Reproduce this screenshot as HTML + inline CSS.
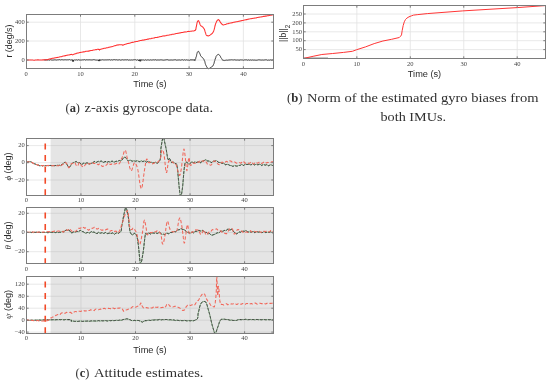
<!DOCTYPE html>
<html><head><meta charset="utf-8"><style>html,body{margin:0;padding:0;background:#fff;width:550px;height:384px;overflow:hidden}svg{display:block}</style></head>
<body><svg width="550" height="384" viewBox="0 0 550 384">
<rect width="550" height="384" fill="#fff"/>
<line x1="80.5" y1="14.5" x2="80.5" y2="68.5" stroke="#e2e2e2" stroke-width="0.8"/>
<line x1="134.79999999999998" y1="14.5" x2="134.79999999999998" y2="68.5" stroke="#e2e2e2" stroke-width="0.8"/>
<line x1="189.09999999999997" y1="14.5" x2="189.09999999999997" y2="68.5" stroke="#e2e2e2" stroke-width="0.8"/>
<line x1="243.39999999999998" y1="14.5" x2="243.39999999999998" y2="68.5" stroke="#e2e2e2" stroke-width="0.8"/>
<line x1="26.5" y1="60.0" x2="273.5" y2="60.0" stroke="#e2e2e2" stroke-width="0.8"/>
<line x1="26.5" y1="41.0" x2="273.5" y2="41.0" stroke="#e2e2e2" stroke-width="0.8"/>
<line x1="26.5" y1="22.2" x2="273.5" y2="22.2" stroke="#e2e2e2" stroke-width="0.8"/>
<polyline points="44.16,60.00 44.60,60.00 45.00,60.00 46.24,59.88 46.81,59.74 47.00,60.13 47.10,59.97 47.37,60.00 48.11,59.75 49.60,60.15 49.98,60.08 50.40,59.71 50.85,59.81 51.34,60.00 51.86,59.99 52.41,60.10 52.99,59.84 53.59,60.03 54.22,59.95 54.87,59.76 55.53,59.89 56.21,60.04 56.91,60.01 57.61,59.84 58.33,59.87 59.06,59.59 59.78,59.69 60.52,59.96 61.25,59.76 61.98,59.64 62.71,59.82 63.43,59.90 64.15,59.88 64.85,59.73 65.54,59.76 66.22,59.80 66.88,59.93 67.52,59.81 68.14,59.75 68.74,59.80 69.31,59.58 69.85,59.59 70.36,59.93 70.85,60.08 71.29,59.90 71.70,59.81 72.07,59.72 72.40,59.90 74.06,60.92 73.00,61.44 71.94,60.76 74.00,60.18 74.34,59.85 74.71,59.98 75.13,60.18 75.58,59.98 76.07,59.91 76.59,59.81 77.13,59.94 77.71,60.13 78.31,59.65 78.94,60.03 79.59,60.04 80.26,60.07 80.94,59.99 81.64,60.02 82.36,59.88 83.09,59.90 83.83,59.83 84.57,59.64 85.32,60.05 86.08,59.90 86.84,59.71 87.59,59.87 88.35,59.86 89.10,59.80 89.85,59.80 90.58,59.90 91.31,59.94 92.02,59.94 92.72,59.87 93.41,59.66 94.07,59.77 94.71,59.75 95.34,59.96 95.94,60.11 96.51,60.08 97.05,60.09 97.56,60.11 98.04,59.84 98.49,60.14 98.90,60.07 99.27,59.78 99.60,59.76 100.00,60.66 98.06,60.63 101.00,59.87 101.32,59.80 101.68,60.05 102.05,59.90 102.45,59.76 102.88,59.80 103.33,59.98 103.80,59.79 104.29,59.84 104.80,60.05 105.34,59.92 105.89,59.85 106.46,59.92 107.04,59.69 107.65,59.87 108.27,59.88 108.90,59.76 109.55,59.71 110.21,60.11 110.88,59.91 111.56,59.76 112.26,59.95 112.96,60.05 113.67,59.65 114.40,59.65 115.12,59.71 115.86,60.00 116.60,59.72 117.34,59.99 118.09,59.97 118.84,59.90 119.59,59.74 120.35,60.12 121.10,60.03 121.86,59.89 122.61,59.74 123.36,59.96 124.11,59.83 124.85,59.92 125.59,59.80 126.32,59.95 127.05,59.67 127.77,59.79 128.48,60.13 129.19,60.08 129.88,59.80 130.56,60.08 131.23,59.81 131.89,60.13 132.54,60.03 133.17,59.87 133.79,59.79 134.39,59.68 134.97,60.12 135.54,59.70 136.09,60.10 136.62,60.17 137.13,59.98 137.62,59.79 138.09,60.14 138.54,60.20 138.96,60.07 139.36,59.98 139.73,59.92 140.08,59.92 140.40,59.85 141.00,61.09 138.54,60.53 142.00,59.85 142.32,59.80 142.65,60.07 143.01,59.88 143.39,59.98 143.79,59.89 144.20,60.15 144.64,60.16 145.09,59.72 145.56,59.81 146.05,59.87 146.55,60.19 147.07,60.09 147.60,59.86 148.15,59.80 148.71,60.03 149.28,60.10 149.87,60.15 150.47,59.85 151.09,60.12 151.71,60.02 152.34,59.92 152.99,60.17 153.65,59.79 154.31,60.04 154.98,59.72 155.66,59.76 156.35,60.13 157.05,59.78 157.75,60.06 158.46,59.98 159.17,60.10 159.89,59.86 160.62,59.85 161.35,59.83 162.08,60.11 162.81,59.98 163.55,60.16 164.29,60.13 165.03,59.75 165.77,59.96 166.51,59.74 167.25,59.71 167.99,59.73 168.73,60.13 169.47,60.09 170.20,60.11 170.93,59.87 171.66,60.01 172.39,60.09 173.11,59.90 173.82,59.99 174.53,59.82 175.23,59.75 175.93,59.85 176.62,60.16 177.30,60.00 177.98,60.18 178.64,59.95 179.30,59.86 179.94,60.12 180.58,60.14 181.20,59.74 181.82,60.07 182.42,59.78 183.01,59.79 183.58,60.18 184.15,59.76 184.70,59.86 185.23,60.24 185.75,59.95 186.25,59.80 186.74,59.83 187.21,59.87 187.67,60.12 188.10,59.80 188.52,60.20 188.92,59.94 189.30,60.23 189.66,60.20 190.00,59.90 192.97,59.91 194.59,60.08 195.21,59.97 195.18,60.31 194.85,60.01 194.58,59.93 194.70,60.24 195.14,59.55 195.45,59.23 195.68,58.59 195.85,57.90 196.01,57.13 196.20,56.91 196.38,56.35 196.54,55.69 196.70,54.56 196.85,53.93 197.00,53.48 197.15,53.10 197.30,52.42 197.85,51.56 198.40,51.38 198.76,51.52 199.11,52.33 199.50,53.00 199.75,53.50 200.02,54.02 200.30,54.76 200.59,55.71 200.90,55.97 201.32,56.58 201.77,56.97 202.24,57.52 202.70,57.75 203.07,58.20 203.45,58.74 203.83,59.32 204.18,60.21 204.50,60.90 204.72,61.22 204.90,61.91 205.07,62.72 205.23,63.45 205.40,64.13 205.60,64.57 205.88,65.14 206.18,65.90 206.49,66.42 206.80,67.18 207.10,67.39 207.73,68.15 208.50,68.67 209.08,68.35 209.75,68.30 210.45,67.74 211.10,67.48 211.58,66.78 212.05,66.59 212.50,66.33 212.92,65.48 213.30,65.32 213.54,64.42 213.76,64.14 213.95,63.61 214.13,62.85 214.32,61.92 214.50,61.15 214.70,60.71 214.91,60.27 215.11,59.30 215.32,58.94 215.53,57.91 215.75,57.68 215.97,56.67 216.20,56.31 216.63,55.82 217.08,55.10 217.54,54.65 218.00,54.37 218.59,54.44 219.17,54.92 219.80,55.44 220.09,56.00 220.40,56.39 220.71,57.27 221.04,57.86 221.36,58.24 221.68,58.67 222.00,59.53 222.47,59.95 222.87,60.13 223.40,60.31 224.20,60.58 224.66,60.40 225.17,60.35 225.71,60.28 226.30,60.18 226.94,59.99 227.62,60.23 228.36,60.05 229.15,60.07 230.00,59.78 230.47,59.92 230.89,59.80 231.28,59.79 231.66,59.85 232.03,60.13 232.41,59.92 232.82,59.92 233.27,60.03 233.78,59.85 234.35,59.74 235.01,60.00 235.76,59.99 236.62,60.07 237.60,59.97 238.72,60.09 240.00,60.12 240.41,59.87 240.84,60.00 241.30,59.99 241.78,59.86 242.28,59.96 242.81,60.03 243.35,60.20 243.92,60.21 244.50,59.89 245.10,60.07 245.72,59.77 246.35,59.79 246.99,60.01 247.65,60.19 248.32,59.83 249.01,60.13 249.70,60.19 250.40,59.91 251.11,60.10 251.83,60.17 252.55,59.94 253.28,60.10 254.01,60.12 254.74,60.05 255.48,60.18 256.22,60.20 256.96,60.23 257.69,60.04 258.43,59.84 259.16,59.88 259.88,59.86 260.61,60.03 261.32,60.13 262.03,59.78 262.73,60.09 263.42,60.11 264.10,59.92 264.77,60.01 265.42,59.83 266.07,60.11 266.70,59.77 267.31,60.24 267.90,60.15 268.48,60.06 269.04,59.88 269.58,60.21 270.10,60.23 270.60,59.82 271.08,60.14 271.53,60.17 271.96,60.08 272.36,60.10 272.73,59.97 273.08,60.21 273.40,60.24" fill="none" stroke="#2e2e2e" stroke-width="0.95" stroke-linejoin="round" opacity="1"/>
<polyline points="26.30,59.87 26.64,59.87 27.03,60.10 27.47,60.07 27.95,60.05 28.48,59.94 29.05,60.03 29.65,60.03 30.29,60.03 30.95,59.90 31.63,59.99 32.34,59.98 33.06,60.08 33.80,60.16 34.54,60.15 35.29,60.03 36.04,60.00 36.78,59.94 37.52,59.87 38.26,59.86 38.97,59.99 39.67,59.94 40.35,59.95 41.01,60.10 41.63,59.98 42.22,59.98 42.78,59.87 43.30,59.79 43.77,59.87 44.20,59.79 45.32,59.84 46.14,59.91 46.74,59.73 47.18,59.48 47.54,59.59 47.89,59.44 48.30,59.28 48.85,59.19 49.60,58.98 50.08,58.89 50.59,58.66 51.12,58.74 51.68,58.63 52.26,58.27 52.86,58.33 53.47,58.19 54.10,57.99 54.74,57.88 55.39,57.74 56.05,57.74 56.71,57.47 57.37,57.44 58.03,57.16 58.70,57.18 59.35,57.05 60.00,56.79 60.59,56.70 61.22,56.67 61.86,56.47 62.53,56.26 63.22,56.03 63.91,55.91 64.61,55.87 65.30,55.56 66.00,55.63 66.68,55.29 67.34,55.34 67.99,55.02 68.61,55.08 69.20,54.89 69.75,54.71 70.26,54.62 70.73,54.57 71.14,54.48 71.50,54.34 72.50,54.91 72.62,54.81 73.50,54.43 73.87,54.22 74.29,53.92 74.77,54.00 75.30,53.81 75.86,53.70 76.47,53.31 77.10,53.30 77.76,52.92 78.43,52.93 79.12,52.65 79.81,52.47 80.50,52.51 81.03,52.17 81.57,52.19 82.14,52.19 82.72,51.90 83.31,51.79 83.91,51.89 84.53,51.65 85.14,51.64 85.76,51.34 86.39,51.34 87.01,51.18 87.62,51.24 88.23,50.96 88.83,51.13 89.42,50.75 90.00,50.87 90.66,50.54 91.35,50.49 92.06,50.52 92.77,50.19 93.49,50.06 94.19,50.08 94.89,49.86 95.56,49.63 96.20,49.80 96.81,49.45 97.37,49.32 97.87,49.34 98.32,49.37 98.70,49.37 99.63,49.60 99.60,50.15 99.57,49.75 100.60,49.18 100.96,49.18 101.37,49.06 101.83,49.00 102.35,48.84 102.90,48.75 103.48,48.57 104.10,48.37 104.74,48.16 105.39,48.15 106.06,47.91 106.74,47.70 107.41,47.66 108.08,47.65 108.74,47.28 109.38,47.27 110.00,47.07 110.58,46.96 111.19,46.70 111.82,46.78 112.46,46.40 113.11,46.33 113.77,46.09 114.43,45.79 115.08,45.78 115.73,45.48 116.36,45.29 116.97,45.12 117.56,45.01 118.12,44.86 118.65,44.90 119.15,44.75 119.60,44.81 120.00,44.73 121.27,44.73 122.01,44.76 122.47,45.13 122.90,45.23 122.97,45.19 124.00,44.64 124.36,44.59 124.78,44.44 125.26,44.18 125.78,44.09 126.35,43.97 126.95,43.66 127.58,43.51 128.24,43.45 128.91,43.19 129.59,43.20 130.28,42.88 130.96,42.67 131.63,42.53 132.28,42.38 132.91,42.22 133.51,42.17 134.08,42.01 134.60,41.84 135.32,41.77 136.00,41.48 136.64,41.54 137.25,41.42 137.84,41.22 138.41,41.01 138.97,40.91 139.53,40.81 140.10,40.53 140.68,40.52 141.27,40.43 141.90,40.20 142.49,40.06 143.08,40.16 143.66,39.92 144.24,39.86 144.83,39.87 145.43,39.67 146.04,39.47 146.65,39.57 147.28,39.27 147.93,39.05 148.60,39.12 149.29,38.82 150.00,38.74 150.54,38.80 151.09,38.64 151.66,38.32 152.25,38.34 152.85,38.20 153.46,38.10 154.08,37.89 154.70,37.87 155.33,37.59 155.96,37.52 156.59,37.42 157.22,37.46 157.84,37.07 158.46,37.15 159.06,36.86 159.66,36.85 160.24,36.68 160.80,36.59 161.46,36.54 162.11,36.31 162.76,36.10 163.39,35.97 164.02,35.84 164.64,35.95 165.25,35.76 165.86,35.74 166.46,35.54 167.06,35.23 167.65,35.30 168.24,35.22 168.83,35.09 169.42,34.91 170.00,34.76 170.62,34.67 171.24,34.65 171.85,34.37 172.45,34.33 173.06,34.20 173.65,34.23 174.24,34.07 174.83,33.99 175.42,33.85 176.00,33.58 176.58,33.45 177.15,33.41 177.73,33.24 178.30,33.18 178.92,33.14 179.55,33.09 180.19,32.87 180.83,32.82 181.47,32.48 182.11,32.45 182.73,32.52 183.34,32.16 183.92,32.13 184.49,31.93 185.03,31.84 185.53,32.00 186.00,31.95 186.87,31.71 187.57,31.47 188.16,31.46 188.72,31.38 189.31,31.45 190.00,31.35 190.61,31.20 191.29,31.17 192.01,30.98 192.73,31.04 193.43,31.07 194.08,30.88 194.65,30.51 195.10,30.40 195.58,29.99 195.83,29.27 195.95,28.78 196.04,27.90 196.20,27.16 196.34,26.49 196.47,26.01 196.61,25.24 196.75,24.45 196.89,23.61 197.03,23.03 197.16,22.33 197.30,22.03 197.85,21.02 198.40,20.60 198.77,21.10 199.14,21.86 199.50,22.67 199.74,23.40 199.95,24.17 200.19,24.78 200.50,25.29 201.07,25.96 201.74,26.17 202.40,26.77 202.87,27.22 203.35,27.76 203.80,28.36 204.20,28.82 204.46,29.53 204.69,30.13 204.89,30.91 205.09,31.69 205.30,32.24 205.51,32.69 205.71,33.48 205.91,34.18 206.14,34.78 206.40,35.15 206.93,35.66 207.54,35.64 208.20,35.93 208.72,35.73 209.28,35.43 209.85,35.17 210.40,34.82 210.95,34.25 211.49,34.12 212.02,33.70 212.50,33.01 212.84,32.69 213.14,32.12 213.43,31.41 213.71,30.91 214.00,29.89 214.17,29.49 214.34,28.82 214.50,28.10 214.67,27.49 214.84,26.74 215.01,25.96 215.17,25.51 215.34,24.62 215.50,24.05 215.78,23.34 216.06,22.70 216.34,22.00 216.62,21.46 216.90,20.90 217.40,20.29 217.90,19.77 218.40,19.63 218.84,19.98 219.28,20.42 219.80,21.17 220.12,21.81 220.47,22.16 220.85,22.89 221.24,23.44 221.62,23.81 222.00,24.25 222.71,24.72 223.41,24.91 224.20,24.69 224.74,24.60 225.31,24.47 225.91,24.24 226.51,23.94 227.10,23.65 227.66,23.65 228.11,23.66 228.78,23.33 230.00,23.11 230.40,22.98 230.85,22.90 231.34,22.92 231.86,22.64 232.42,22.63 233.00,22.46 233.61,22.35 234.24,22.33 234.88,21.94 235.53,22.03 236.18,21.74 236.84,21.70 237.50,21.61 238.14,21.43 238.78,21.22 239.40,21.23 240.00,20.88 240.59,20.92 241.18,20.72 241.76,20.63 242.35,20.60 242.94,20.46 243.53,20.29 244.12,20.06 244.71,19.91 245.29,19.86 245.88,19.66 246.47,19.55 247.06,19.63 247.65,19.26 248.24,19.35 248.82,19.10 249.41,18.98 250.00,18.85 250.62,18.65 251.23,18.65 251.83,18.45 252.42,18.43 253.01,18.28 253.60,18.35 254.19,18.26 254.79,18.01 255.39,17.96 256.00,17.94 256.62,17.65 257.26,17.47 257.91,17.40 258.59,17.26 259.28,17.28 260.00,17.06 260.55,16.96 261.14,16.98 261.76,16.69 262.41,16.75 263.08,16.57 263.77,16.37 264.47,16.37 265.19,16.09 265.90,16.12 266.62,16.00 267.32,15.74 268.02,15.66 268.71,15.61 269.37,15.43 270.01,15.31 270.62,15.23 271.20,15.14 271.73,14.99 272.23,14.96 272.67,14.67 273.07,14.70 273.40,14.65" fill="none" stroke="#ff3030" stroke-width="1.05" stroke-linejoin="round" opacity="1"/>
<rect x="26.5" y="14.5" width="247.0" height="54.0" fill="none" stroke="#7c7c7c" stroke-width="1"/>
<line x1="80.5" y1="68.5" x2="80.5" y2="66.3" stroke="#7c7c7c" stroke-width="1"/>
<line x1="80.5" y1="14.5" x2="80.5" y2="16.7" stroke="#7c7c7c" stroke-width="1"/>
<line x1="134.79999999999998" y1="68.5" x2="134.79999999999998" y2="66.3" stroke="#7c7c7c" stroke-width="1"/>
<line x1="134.79999999999998" y1="14.5" x2="134.79999999999998" y2="16.7" stroke="#7c7c7c" stroke-width="1"/>
<line x1="189.09999999999997" y1="68.5" x2="189.09999999999997" y2="66.3" stroke="#7c7c7c" stroke-width="1"/>
<line x1="189.09999999999997" y1="14.5" x2="189.09999999999997" y2="16.7" stroke="#7c7c7c" stroke-width="1"/>
<line x1="243.39999999999998" y1="68.5" x2="243.39999999999998" y2="66.3" stroke="#7c7c7c" stroke-width="1"/>
<line x1="243.39999999999998" y1="14.5" x2="243.39999999999998" y2="16.7" stroke="#7c7c7c" stroke-width="1"/>
<line x1="26.5" y1="60.0" x2="28.7" y2="60.0" stroke="#7c7c7c" stroke-width="1"/>
<line x1="273.5" y1="60.0" x2="271.3" y2="60.0" stroke="#7c7c7c" stroke-width="1"/>
<line x1="26.5" y1="41.0" x2="28.7" y2="41.0" stroke="#7c7c7c" stroke-width="1"/>
<line x1="273.5" y1="41.0" x2="271.3" y2="41.0" stroke="#7c7c7c" stroke-width="1"/>
<line x1="26.5" y1="22.2" x2="28.7" y2="22.2" stroke="#7c7c7c" stroke-width="1"/>
<line x1="273.5" y1="22.2" x2="271.3" y2="22.2" stroke="#7c7c7c" stroke-width="1"/>
<text x="26.2" y="75.6" font-family="Liberation Serif, DejaVu Serif, serif" font-size="6.5" fill="#444" text-anchor="middle">0</text>
<text x="80.5" y="75.6" font-family="Liberation Serif, DejaVu Serif, serif" font-size="6.5" fill="#444" text-anchor="middle">10</text>
<text x="134.79999999999998" y="75.6" font-family="Liberation Serif, DejaVu Serif, serif" font-size="6.5" fill="#444" text-anchor="middle">20</text>
<text x="189.09999999999997" y="75.6" font-family="Liberation Serif, DejaVu Serif, serif" font-size="6.5" fill="#444" text-anchor="middle">30</text>
<text x="243.39999999999998" y="75.6" font-family="Liberation Serif, DejaVu Serif, serif" font-size="6.5" fill="#444" text-anchor="middle">40</text>
<text x="24.8" y="61.7" font-family="Liberation Serif, DejaVu Serif, serif" font-size="6.5" fill="#444" text-anchor="end">0</text>
<text x="24.8" y="42.7" font-family="Liberation Serif, DejaVu Serif, serif" font-size="6.5" fill="#444" text-anchor="end">200</text>
<text x="24.8" y="23.9" font-family="Liberation Serif, DejaVu Serif, serif" font-size="6.5" fill="#444" text-anchor="end">400</text>
<text x="150" y="87.1" font-family="Liberation Sans, Arial, sans-serif" font-size="9.2" fill="#2a2a2a" text-anchor="middle">Time (s)</text>
<text transform="translate(11.8,41.1) rotate(-90)" font-family="Liberation Sans, Arial, sans-serif" font-size="8.9" fill="#2a2a2a" text-anchor="middle">r (deg/s)</text>
<line x1="356.84999999999997" y1="5.5" x2="356.84999999999997" y2="58.5" stroke="#e2e2e2" stroke-width="0.8"/>
<line x1="410.29999999999995" y1="5.5" x2="410.29999999999995" y2="58.5" stroke="#e2e2e2" stroke-width="0.8"/>
<line x1="463.75" y1="5.5" x2="463.75" y2="58.5" stroke="#e2e2e2" stroke-width="0.8"/>
<line x1="517.1999999999999" y1="5.5" x2="517.1999999999999" y2="58.5" stroke="#e2e2e2" stroke-width="0.8"/>
<line x1="303.5" y1="49.6" x2="545.5" y2="49.6" stroke="#e2e2e2" stroke-width="0.8"/>
<line x1="303.5" y1="40.7" x2="545.5" y2="40.7" stroke="#e2e2e2" stroke-width="0.8"/>
<line x1="303.5" y1="31.799999999999997" x2="545.5" y2="31.799999999999997" stroke="#e2e2e2" stroke-width="0.8"/>
<line x1="303.5" y1="22.9" x2="545.5" y2="22.9" stroke="#e2e2e2" stroke-width="0.8"/>
<line x1="303.5" y1="14.0" x2="545.5" y2="14.0" stroke="#e2e2e2" stroke-width="0.8"/>
<polyline points="303.40,58.40 328.00,58.30" fill="none" stroke="#222" stroke-width="1.3" stroke-linejoin="round" opacity="1"/>
<polyline points="303.30,58.50 313.10,56.30 321.80,54.50 332.70,53.50 343.60,52.40 352.40,51.30 356.70,49.70 365.50,46.90 374.20,43.60 382.90,41.00 391.60,39.30 399.30,37.50 400.60,36.20 401.50,34.90 402.20,30.50 403.20,25.50 404.30,21.80 405.50,19.50 406.90,18.10 409.00,16.80 411.30,15.90 413.60,15.10 417.80,14.60 427.30,13.60 462.70,10.90 517.30,7.60 545.20,5.60" fill="none" stroke="#ff3535" stroke-width="1.0" stroke-linejoin="round" opacity="1"/>
<rect x="303.5" y="5.5" width="242.0" height="53.0" fill="none" stroke="#7c7c7c" stroke-width="1"/>
<line x1="356.84999999999997" y1="58.5" x2="356.84999999999997" y2="56.3" stroke="#7c7c7c" stroke-width="1"/>
<line x1="356.84999999999997" y1="5.5" x2="356.84999999999997" y2="7.7" stroke="#7c7c7c" stroke-width="1"/>
<line x1="410.29999999999995" y1="58.5" x2="410.29999999999995" y2="56.3" stroke="#7c7c7c" stroke-width="1"/>
<line x1="410.29999999999995" y1="5.5" x2="410.29999999999995" y2="7.7" stroke="#7c7c7c" stroke-width="1"/>
<line x1="463.75" y1="58.5" x2="463.75" y2="56.3" stroke="#7c7c7c" stroke-width="1"/>
<line x1="463.75" y1="5.5" x2="463.75" y2="7.7" stroke="#7c7c7c" stroke-width="1"/>
<line x1="517.1999999999999" y1="58.5" x2="517.1999999999999" y2="56.3" stroke="#7c7c7c" stroke-width="1"/>
<line x1="517.1999999999999" y1="5.5" x2="517.1999999999999" y2="7.7" stroke="#7c7c7c" stroke-width="1"/>
<line x1="303.5" y1="49.6" x2="305.7" y2="49.6" stroke="#7c7c7c" stroke-width="1"/>
<line x1="545.5" y1="49.6" x2="543.3" y2="49.6" stroke="#7c7c7c" stroke-width="1"/>
<line x1="303.5" y1="40.7" x2="305.7" y2="40.7" stroke="#7c7c7c" stroke-width="1"/>
<line x1="545.5" y1="40.7" x2="543.3" y2="40.7" stroke="#7c7c7c" stroke-width="1"/>
<line x1="303.5" y1="31.799999999999997" x2="305.7" y2="31.799999999999997" stroke="#7c7c7c" stroke-width="1"/>
<line x1="545.5" y1="31.799999999999997" x2="543.3" y2="31.799999999999997" stroke="#7c7c7c" stroke-width="1"/>
<line x1="303.5" y1="22.9" x2="305.7" y2="22.9" stroke="#7c7c7c" stroke-width="1"/>
<line x1="545.5" y1="22.9" x2="543.3" y2="22.9" stroke="#7c7c7c" stroke-width="1"/>
<line x1="303.5" y1="14.0" x2="305.7" y2="14.0" stroke="#7c7c7c" stroke-width="1"/>
<line x1="545.5" y1="14.0" x2="543.3" y2="14.0" stroke="#7c7c7c" stroke-width="1"/>
<text x="303.4" y="65.6" font-family="Liberation Serif, DejaVu Serif, serif" font-size="6.5" fill="#444" text-anchor="middle">0</text>
<text x="356.84999999999997" y="65.6" font-family="Liberation Serif, DejaVu Serif, serif" font-size="6.5" fill="#444" text-anchor="middle">10</text>
<text x="410.29999999999995" y="65.6" font-family="Liberation Serif, DejaVu Serif, serif" font-size="6.5" fill="#444" text-anchor="middle">20</text>
<text x="463.75" y="65.6" font-family="Liberation Serif, DejaVu Serif, serif" font-size="6.5" fill="#444" text-anchor="middle">30</text>
<text x="517.1999999999999" y="65.6" font-family="Liberation Serif, DejaVu Serif, serif" font-size="6.5" fill="#444" text-anchor="middle">40</text>
<text x="302.1" y="51.300000000000004" font-family="Liberation Serif, DejaVu Serif, serif" font-size="6.5" fill="#444" text-anchor="end">50</text>
<text x="302.1" y="42.400000000000006" font-family="Liberation Serif, DejaVu Serif, serif" font-size="6.5" fill="#444" text-anchor="end">100</text>
<text x="302.1" y="33.5" font-family="Liberation Serif, DejaVu Serif, serif" font-size="6.5" fill="#444" text-anchor="end">150</text>
<text x="302.1" y="24.599999999999998" font-family="Liberation Serif, DejaVu Serif, serif" font-size="6.5" fill="#444" text-anchor="end">200</text>
<text x="302.1" y="15.7" font-family="Liberation Serif, DejaVu Serif, serif" font-size="6.5" fill="#444" text-anchor="end">250</text>
<text x="424.5" y="76.8" font-family="Liberation Sans, Arial, sans-serif" font-size="9.2" fill="#2a2a2a" text-anchor="middle">Time (s)</text>
<text transform="translate(285.6,33.4) rotate(-90)" font-family="Liberation Sans, Arial, sans-serif" font-size="8.6" fill="#2a2a2a" text-anchor="middle">||b||<tspan font-size="6.3" dy="4.4">2</tspan></text>
<defs><clipPath id="c0"><rect x="26.5" y="138.5" width="247" height="57.0"/></clipPath></defs>
<rect x="50.6" y="138.5" width="222.9" height="57.0" fill="#e5e5e5"/>
<line x1="80.94999999999999" y1="138.5" x2="80.94999999999999" y2="195.5" stroke="#cfcfcf" stroke-width="0.8"/>
<line x1="135.5" y1="138.5" x2="135.5" y2="195.5" stroke="#cfcfcf" stroke-width="0.8"/>
<line x1="190.05" y1="138.5" x2="190.05" y2="195.5" stroke="#cfcfcf" stroke-width="0.8"/>
<line x1="244.6" y1="138.5" x2="244.6" y2="195.5" stroke="#cfcfcf" stroke-width="0.8"/>
<line x1="26.5" y1="145.6" x2="50.6" y2="145.6" stroke="#e2e2e2" stroke-width="0.8"/>
<line x1="50.6" y1="145.6" x2="273.5" y2="145.6" stroke="#cfcfcf" stroke-width="0.8"/>
<line x1="26.5" y1="162.7" x2="50.6" y2="162.7" stroke="#e2e2e2" stroke-width="0.8"/>
<line x1="50.6" y1="162.7" x2="273.5" y2="162.7" stroke="#cfcfcf" stroke-width="0.8"/>
<line x1="26.5" y1="180.0" x2="50.6" y2="180.0" stroke="#e2e2e2" stroke-width="0.8"/>
<line x1="50.6" y1="180.0" x2="273.5" y2="180.0" stroke="#cfcfcf" stroke-width="0.8"/>
<g clip-path="url(#c0)">
<polyline points="26.40,162.23 26.85,162.00 27.47,162.10 28.21,161.95 29.00,161.76 29.79,161.51 30.50,161.71 31.05,161.79 31.56,162.00 32.07,162.57 32.58,162.92 33.11,162.89 33.68,163.55 34.30,163.74 34.82,163.87 35.36,164.06 35.93,164.45 36.51,164.59 37.11,164.90 37.73,165.10 38.35,165.07 38.97,165.48 39.60,165.69 40.13,165.77 40.61,165.68 41.06,165.49 41.51,165.49 41.99,165.54 42.51,165.85 43.11,165.58 43.81,165.59 44.63,165.78 45.60,165.53 46.04,165.61 46.53,165.57 47.06,165.42 47.62,165.62 48.22,165.73 48.84,165.45 49.49,165.48 50.15,165.55 50.83,165.40 51.53,165.59 52.23,165.71 52.93,165.64 53.64,165.58 54.34,165.70 55.04,165.41 55.72,165.56 56.39,165.47 57.04,165.53 57.66,165.31 58.26,165.55 58.82,165.24 59.36,165.22 59.85,165.43 60.30,166.00 60.70,165.52 61.85,164.45 62.65,164.12 63.20,163.93 63.57,163.69 63.85,163.08 64.13,162.65 64.50,162.46 65.18,162.11 65.75,162.63 66.27,163.42 66.80,164.27 67.12,164.70 67.43,165.26 67.74,165.90 68.06,166.27 68.37,166.98 68.68,167.13 69.00,167.24 69.37,167.04 69.73,166.89 70.10,166.52 70.48,165.92 70.88,165.52 71.30,164.84 71.74,164.02 72.19,163.47 72.66,163.09 73.16,162.65 73.71,162.59 74.30,162.27 74.88,162.15 75.52,161.69 76.20,161.51 76.90,161.94 77.58,162.65 78.22,162.94 78.80,162.81 79.49,162.52 80.10,162.93 80.66,163.78 81.21,164.21 81.80,164.33 82.41,164.04 83.01,163.72 83.62,163.18 84.28,163.22 85.00,163.39 85.56,163.43 86.13,163.32 86.74,162.82 87.37,162.91 88.02,163.41 88.70,163.94 89.40,163.94 89.96,163.74 90.55,163.50 91.14,163.33 91.76,163.26 92.38,163.19 93.02,162.76 93.67,161.78 94.33,161.49 95.00,161.89 95.62,162.31 96.27,162.38 96.95,161.98 97.63,161.59 98.32,161.32 99.00,161.64 99.67,161.78 100.31,161.33 100.93,161.22 101.50,161.15 102.17,161.64 102.67,161.75 103.09,162.37 103.54,162.35 104.11,162.13 104.90,161.64 106.00,161.61 106.44,162.01 106.93,161.95 107.46,162.05 108.03,161.96 108.64,161.56 109.28,161.82 109.94,161.99 110.62,161.97 111.32,161.46 112.03,160.96 112.75,161.44 113.47,161.92 114.18,162.03 114.88,161.88 115.57,161.44 116.24,161.25 116.89,161.35 117.51,161.50 118.09,161.22 118.64,160.72 119.14,160.49 119.60,160.56 120.48,160.91 121.23,160.72 121.87,160.21 122.43,159.41 122.91,158.63 123.34,158.02 123.74,157.49 124.12,157.49 124.50,157.30 124.90,157.28 125.42,157.39 125.81,157.66 126.15,158.18 126.47,158.68 126.83,159.19 127.29,160.10 127.90,160.72 128.36,160.94 128.85,160.76 129.38,160.49 129.93,160.13 130.52,160.27 131.14,160.57 131.79,161.04 132.47,161.17 133.18,160.90 133.92,160.80 134.70,161.05 135.22,161.28 135.75,161.13 136.30,161.03 136.87,160.79 137.45,160.74 138.04,160.97 138.64,161.24 139.26,161.87 139.89,161.70 140.53,160.94 141.18,160.82 141.85,160.98 142.52,161.46 143.20,161.44 143.89,161.08 144.59,160.97 145.30,161.33 145.87,161.71 146.47,162.16 147.09,161.96 147.74,161.24 148.41,161.34 149.10,161.85 149.80,162.13 150.50,162.50 151.21,162.31 151.92,162.51 152.63,162.80 153.32,162.78 154.00,162.76 154.67,162.60 155.31,162.25 155.93,162.42 156.52,162.98 157.08,163.23 157.60,163.21 158.08,162.54 158.51,161.91 158.90,161.68 159.21,161.03 159.48,160.87 159.72,160.62 159.93,160.02 160.10,159.65 160.25,158.96 160.37,158.39 160.47,157.97 160.56,157.43 160.62,156.81 160.67,155.73 160.71,155.37 160.73,154.49 160.75,153.70 160.77,152.99 160.78,152.34 160.79,151.54 160.81,150.76 160.83,150.36 160.86,149.64 160.90,148.96 160.95,148.40 161.02,147.93 161.10,147.05 161.24,146.49 161.38,145.64 161.53,144.57 161.67,143.76 161.81,142.84 161.96,141.88 162.10,141.16 162.24,140.28 162.39,139.89 162.53,138.97 162.68,138.62 162.82,138.17 162.97,138.01 163.11,137.73 163.26,137.48 163.40,137.53 163.54,137.58 163.69,137.89 163.83,138.40 163.98,139.16 164.12,139.37 164.27,140.04 164.41,140.89 164.56,141.47 164.70,142.10 164.84,143.12 164.99,143.46 165.13,144.38 165.27,144.99 165.42,145.61 165.56,146.17 165.70,146.75 165.81,147.33 165.93,147.99 166.04,148.45 166.16,149.19 166.27,149.88 166.39,150.28 166.51,151.28 166.62,151.89 166.74,152.56 166.85,153.35 166.96,154.24 167.08,154.78 167.19,155.37 167.29,156.40 167.40,156.71 167.51,157.30 167.61,158.10 167.71,158.42 167.81,158.83 167.90,159.33 168.64,159.58 169.40,158.23 169.67,158.75 169.96,159.16 170.25,159.87 170.57,160.66 170.91,161.28 171.29,162.04 171.70,162.65 172.27,162.63 172.93,162.04 173.64,162.21 174.33,162.65 174.97,163.30 175.50,163.63 175.90,163.70 176.21,163.72 176.47,164.02 176.70,164.06 176.93,165.15 177.20,166.53 177.26,166.73 177.31,167.44 177.37,167.59 177.43,168.41 177.49,168.74 177.55,169.54 177.61,170.06 177.67,170.53 177.73,171.27 177.79,172.08 177.85,172.44 177.92,173.15 177.98,173.89 178.04,174.82 178.10,175.32 178.16,176.05 178.22,176.94 178.29,177.66 178.35,178.32 178.41,179.10 178.47,179.60 178.53,180.30 178.59,181.00 178.65,181.68 178.71,182.62 178.77,183.34 178.82,183.61 178.88,184.30 178.94,184.71 178.99,185.41 179.05,186.00 179.10,186.45 179.20,187.40 179.29,188.08 179.38,188.70 179.47,189.62 179.56,190.42 179.65,191.12 179.73,191.70 179.81,192.61 179.90,193.18 179.98,193.85 180.06,194.24 180.15,194.59 180.23,195.07 180.32,195.37 180.41,195.74 180.50,195.81 180.60,195.88 180.72,196.08 180.84,195.83 180.96,195.62 181.09,195.33 181.22,195.18 181.35,194.75 181.47,194.21 181.61,193.50 181.74,192.83 181.87,192.12 182.00,191.16 182.13,190.32 182.27,189.46 182.40,188.45 182.46,187.98 182.52,187.51 182.58,186.93 182.64,186.24 182.70,185.69 182.76,185.22 182.82,184.47 182.88,183.98 182.94,183.09 183.00,182.50 183.06,181.56 183.12,180.90 183.18,180.38 183.25,179.35 183.31,178.78 183.37,177.78 183.43,177.25 183.49,176.44 183.55,175.87 183.61,175.10 183.67,174.35 183.73,173.47 183.79,172.91 183.85,172.03 183.91,171.51 183.97,170.84 184.02,170.28 184.08,169.63 184.14,169.06 184.19,168.68 184.25,168.27 184.30,167.80 184.46,166.76 184.60,165.61 184.73,164.63 184.85,164.16 184.97,163.51 185.10,163.34 185.25,162.71 185.40,162.61 185.59,162.52 185.80,162.48 186.31,162.23 186.90,162.34 187.54,162.86 188.22,163.52 188.90,164.19 189.44,164.19 189.94,163.58 190.47,163.21 191.06,162.40 191.75,161.82 192.60,162.28 193.10,162.61 193.66,162.68 194.26,162.37 194.90,161.90 195.57,161.98 196.26,162.39 196.95,162.47 197.64,162.07 198.32,161.91 198.98,162.04 199.61,162.34 200.20,162.79 200.87,162.42 201.52,162.07 202.16,161.13 202.78,160.78 203.39,160.80 203.98,160.86 204.55,160.40 205.12,159.99 205.66,159.79 206.20,159.73 206.84,160.47 207.45,160.98 208.03,160.99 208.59,161.03 209.14,161.08 209.69,161.25 210.24,161.60 210.80,162.35 211.42,162.47 212.01,162.34 212.58,161.58 213.17,161.14 213.80,161.15 214.50,161.21 215.30,161.05 215.77,160.71 216.26,160.58 216.76,160.79 217.28,161.08 217.83,161.85 218.38,162.32 218.96,162.34 219.55,162.47 220.17,162.32 220.80,162.66 221.45,163.16 222.11,163.14 222.80,163.37 223.31,163.19 223.85,163.49 224.40,163.63 224.98,164.52 225.56,164.75 226.16,164.58 226.77,164.40 227.38,164.37 228.00,164.27 228.62,164.91 229.24,165.21 229.86,165.28 230.48,165.52 231.09,165.46 231.68,165.79 232.27,166.29 232.84,166.08 233.40,166.18 234.05,165.64 234.70,165.48 235.34,165.76 235.98,166.06 236.60,166.09 237.22,166.23 237.84,165.65 238.45,165.44 239.05,165.47 239.64,165.40 240.23,165.41 240.81,164.95 241.38,164.50 241.94,164.55 242.50,164.82 243.13,165.18 243.66,165.47 244.11,165.33 244.53,164.85 244.93,164.24 245.36,164.16 245.83,164.12 246.38,164.37 247.04,164.44 247.85,164.36 248.82,164.13 250.00,164.54 250.41,164.98 250.86,164.70 251.34,164.69 251.85,164.39 252.39,163.73 252.96,163.79 253.55,164.50 254.16,164.69 254.79,165.02 255.44,164.51 256.11,164.45 256.79,164.37 257.49,164.73 258.19,164.65 258.91,164.54 259.63,164.17 260.35,164.41 261.08,165.07 261.81,165.45 262.53,164.96 263.25,164.47 263.97,164.40 264.68,164.97 265.38,165.14 266.07,164.79 266.74,164.73 267.40,165.11 268.05,165.36 268.67,165.76 269.27,165.44 269.85,165.07 270.40,164.80 270.93,164.73 271.43,164.95 271.89,165.17 272.32,165.32 272.72,165.57 273.08,165.61 273.40,165.35" fill="none" stroke="#93c793" stroke-width="1.0" stroke-linejoin="round" opacity="1"/>
<polyline points="26.40,162.23 26.85,162.00 27.47,162.10 28.21,161.95 29.00,161.76 29.79,161.51 30.50,161.71 31.05,161.79 31.56,162.00 32.07,162.57 32.58,162.92 33.11,162.89 33.68,163.55 34.30,163.74 34.82,163.87 35.36,164.06 35.93,164.45 36.51,164.59 37.11,164.90 37.73,165.10 38.35,165.07 38.97,165.48 39.60,165.69 40.13,165.77 40.61,165.68 41.06,165.49 41.51,165.49 41.99,165.54 42.51,165.85 43.11,165.58 43.81,165.59 44.63,165.78 45.60,165.53 46.04,165.61 46.53,165.57 47.06,165.42 47.62,165.62 48.22,165.73 48.84,165.45 49.49,165.48 50.15,165.55 50.83,165.40 51.53,165.59 52.23,165.71 52.93,165.64 53.64,165.58 54.34,165.70 55.04,165.41 55.72,165.56 56.39,165.47 57.04,165.53 57.66,165.31 58.26,165.55 58.82,165.24 59.36,165.22 59.85,165.43 60.30,166.00 60.70,165.52 61.85,164.45 62.65,164.12 63.20,163.93 63.57,163.69 63.85,163.08 64.13,162.65 64.50,162.46 65.18,162.11 65.75,162.63 66.27,163.42 66.80,164.27 67.12,164.70 67.43,165.26 67.74,165.90 68.06,166.27 68.37,166.98 68.68,167.13 69.00,167.24 69.37,167.04 69.73,166.89 70.10,166.52 70.48,165.92 70.88,165.52 71.30,164.84 71.74,164.02 72.19,163.47 72.66,163.09 73.16,162.65 73.71,162.59 74.30,162.27 74.88,162.15 75.52,161.69 76.20,161.51 76.90,161.94 77.58,162.65 78.22,162.94 78.80,162.81 79.49,162.52 80.10,162.93 80.66,163.78 81.21,164.21 81.80,164.33 82.41,164.04 83.01,163.72 83.62,163.18 84.28,163.22 85.00,163.39 85.56,163.43 86.13,163.32 86.74,162.82 87.37,162.91 88.02,163.41 88.70,163.94 89.40,163.94 89.96,163.74 90.55,163.50 91.14,163.33 91.76,163.26 92.38,163.19 93.02,162.76 93.67,161.78 94.33,161.49 95.00,161.89 95.62,162.31 96.27,162.38 96.95,161.98 97.63,161.59 98.32,161.32 99.00,161.64 99.67,161.78 100.31,161.33 100.93,161.22 101.50,161.15 102.17,161.64 102.67,161.75 103.09,162.37 103.54,162.35 104.11,162.13 104.90,161.64 106.00,161.61 106.44,162.01 106.93,161.95 107.46,162.05 108.03,161.96 108.64,161.56 109.28,161.82 109.94,161.99 110.62,161.97 111.32,161.46 112.03,160.96 112.75,161.44 113.47,161.92 114.18,162.03 114.88,161.88 115.57,161.44 116.24,161.25 116.89,161.35 117.51,161.50 118.09,161.22 118.64,160.72 119.14,160.49 119.60,160.56 120.48,160.91 121.23,160.72 121.87,160.21 122.43,159.41 122.91,158.63 123.34,158.02 123.74,157.49 124.12,157.49 124.50,157.30 124.90,157.28 125.42,157.39 125.81,157.66 126.15,158.18 126.47,158.68 126.83,159.19 127.29,160.10 127.90,160.72 128.36,160.94 128.85,160.76 129.38,160.49 129.93,160.13 130.52,160.27 131.14,160.57 131.79,161.04 132.47,161.17 133.18,160.90 133.92,160.80 134.70,161.05 135.22,161.28 135.75,161.13 136.30,161.03 136.87,160.79 137.45,160.74 138.04,160.97 138.64,161.24 139.26,161.87 139.89,161.70 140.53,160.94 141.18,160.82 141.85,160.98 142.52,161.46 143.20,161.44 143.89,161.08 144.59,160.97 145.30,161.33 145.87,161.71 146.47,162.16 147.09,161.96 147.74,161.24 148.41,161.34 149.10,161.85 149.80,162.13 150.50,162.50 151.21,162.31 151.92,162.51 152.63,162.80 153.32,162.78 154.00,162.76 154.67,162.60 155.31,162.25 155.93,162.42 156.52,162.98 157.08,163.23 157.60,163.21 158.08,162.54 158.51,161.91 158.90,161.68 159.21,161.03 159.48,160.87 159.72,160.62 159.93,160.02 160.10,159.65 160.25,158.96 160.37,158.39 160.47,157.97 160.56,157.43 160.62,156.81 160.67,155.73 160.71,155.37 160.73,154.49 160.75,153.70 160.77,152.99 160.78,152.34 160.79,151.54 160.81,150.76 160.83,150.36 160.86,149.64 160.90,148.96 160.95,148.40 161.02,147.93 161.10,147.05 161.24,146.49 161.38,145.64 161.53,144.57 161.67,143.76 161.81,142.84 161.96,141.88 162.10,141.16 162.24,140.28 162.39,139.89 162.53,138.97 162.68,138.62 162.82,138.17 162.97,138.01 163.11,137.73 163.26,137.48 163.40,137.53 163.54,137.58 163.69,137.89 163.83,138.40 163.98,139.16 164.12,139.37 164.27,140.04 164.41,140.89 164.56,141.47 164.70,142.10 164.84,143.12 164.99,143.46 165.13,144.38 165.27,144.99 165.42,145.61 165.56,146.17 165.70,146.75 165.81,147.33 165.93,147.99 166.04,148.45 166.16,149.19 166.27,149.88 166.39,150.28 166.51,151.28 166.62,151.89 166.74,152.56 166.85,153.35 166.96,154.24 167.08,154.78 167.19,155.37 167.29,156.40 167.40,156.71 167.51,157.30 167.61,158.10 167.71,158.42 167.81,158.83 167.90,159.33 168.64,159.58 169.40,158.23 169.67,158.75 169.96,159.16 170.25,159.87 170.57,160.66 170.91,161.28 171.29,162.04 171.70,162.65 172.27,162.63 172.93,162.04 173.64,162.21 174.33,162.65 174.97,163.30 175.50,163.63 175.90,163.70 176.21,163.72 176.47,164.02 176.70,164.06 176.93,165.15 177.20,166.53 177.26,166.73 177.31,167.44 177.37,167.59 177.43,168.41 177.49,168.74 177.55,169.54 177.61,170.06 177.67,170.53 177.73,171.27 177.79,172.08 177.85,172.44 177.92,173.15 177.98,173.89 178.04,174.82 178.10,175.32 178.16,176.05 178.22,176.94 178.29,177.66 178.35,178.32 178.41,179.10 178.47,179.60 178.53,180.30 178.59,181.00 178.65,181.68 178.71,182.62 178.77,183.34 178.82,183.61 178.88,184.30 178.94,184.71 178.99,185.41 179.05,186.00 179.10,186.45 179.20,187.40 179.29,188.08 179.38,188.70 179.47,189.62 179.56,190.42 179.65,191.12 179.73,191.70 179.81,192.61 179.90,193.18 179.98,193.85 180.06,194.24 180.15,194.59 180.23,195.07 180.32,195.37 180.41,195.74 180.50,195.81 180.60,195.88 180.72,196.08 180.84,195.83 180.96,195.62 181.09,195.33 181.22,195.18 181.35,194.75 181.47,194.21 181.61,193.50 181.74,192.83 181.87,192.12 182.00,191.16 182.13,190.32 182.27,189.46 182.40,188.45 182.46,187.98 182.52,187.51 182.58,186.93 182.64,186.24 182.70,185.69 182.76,185.22 182.82,184.47 182.88,183.98 182.94,183.09 183.00,182.50 183.06,181.56 183.12,180.90 183.18,180.38 183.25,179.35 183.31,178.78 183.37,177.78 183.43,177.25 183.49,176.44 183.55,175.87 183.61,175.10 183.67,174.35 183.73,173.47 183.79,172.91 183.85,172.03 183.91,171.51 183.97,170.84 184.02,170.28 184.08,169.63 184.14,169.06 184.19,168.68 184.25,168.27 184.30,167.80 184.46,166.76 184.60,165.61 184.73,164.63 184.85,164.16 184.97,163.51 185.10,163.34 185.25,162.71 185.40,162.61 185.59,162.52 185.80,162.48 186.31,162.23 186.90,162.34 187.54,162.86 188.22,163.52 188.90,164.19 189.44,164.19 189.94,163.58 190.47,163.21 191.06,162.40 191.75,161.82 192.60,162.28 193.10,162.61 193.66,162.68 194.26,162.37 194.90,161.90 195.57,161.98 196.26,162.39 196.95,162.47 197.64,162.07 198.32,161.91 198.98,162.04 199.61,162.34 200.20,162.79 200.87,162.42 201.52,162.07 202.16,161.13 202.78,160.78 203.39,160.80 203.98,160.86 204.55,160.40 205.12,159.99 205.66,159.79 206.20,159.73 206.84,160.47 207.45,160.98 208.03,160.99 208.59,161.03 209.14,161.08 209.69,161.25 210.24,161.60 210.80,162.35 211.42,162.47 212.01,162.34 212.58,161.58 213.17,161.14 213.80,161.15 214.50,161.21 215.30,161.05 215.77,160.71 216.26,160.58 216.76,160.79 217.28,161.08 217.83,161.85 218.38,162.32 218.96,162.34 219.55,162.47 220.17,162.32 220.80,162.66 221.45,163.16 222.11,163.14 222.80,163.37 223.31,163.19 223.85,163.49 224.40,163.63 224.98,164.52 225.56,164.75 226.16,164.58 226.77,164.40 227.38,164.37 228.00,164.27 228.62,164.91 229.24,165.21 229.86,165.28 230.48,165.52 231.09,165.46 231.68,165.79 232.27,166.29 232.84,166.08 233.40,166.18 234.05,165.64 234.70,165.48 235.34,165.76 235.98,166.06 236.60,166.09 237.22,166.23 237.84,165.65 238.45,165.44 239.05,165.47 239.64,165.40 240.23,165.41 240.81,164.95 241.38,164.50 241.94,164.55 242.50,164.82 243.13,165.18 243.66,165.47 244.11,165.33 244.53,164.85 244.93,164.24 245.36,164.16 245.83,164.12 246.38,164.37 247.04,164.44 247.85,164.36 248.82,164.13 250.00,164.54 250.41,164.98 250.86,164.70 251.34,164.69 251.85,164.39 252.39,163.73 252.96,163.79 253.55,164.50 254.16,164.69 254.79,165.02 255.44,164.51 256.11,164.45 256.79,164.37 257.49,164.73 258.19,164.65 258.91,164.54 259.63,164.17 260.35,164.41 261.08,165.07 261.81,165.45 262.53,164.96 263.25,164.47 263.97,164.40 264.68,164.97 265.38,165.14 266.07,164.79 266.74,164.73 267.40,165.11 268.05,165.36 268.67,165.76 269.27,165.44 269.85,165.07 270.40,164.80 270.93,164.73 271.43,164.95 271.89,165.17 272.32,165.32 272.72,165.57 273.08,165.61 273.40,165.35" fill="none" stroke="#333333" stroke-width="1.0" stroke-linejoin="round" stroke-dasharray="3,1.1" opacity="1"/>
<polyline points="26.40,162.33 26.85,162.32 27.47,161.86 28.21,161.89 29.00,161.90 29.79,161.83 30.50,161.74 31.05,161.69 31.56,162.05 32.07,162.64 32.58,162.53 33.11,162.98 33.68,163.63 34.30,163.67 34.82,163.77 35.36,164.05 35.93,164.58 36.51,164.52 37.11,164.79 37.73,165.10 38.35,165.37 38.97,165.37 39.60,165.29 40.13,165.62 40.61,165.40 41.06,165.46 41.51,165.52 41.99,165.77 42.51,165.55 43.11,165.74 43.81,165.46 44.63,165.42 45.60,165.36 46.04,165.70 46.53,165.78 47.06,165.46 47.62,165.48 48.22,165.37 48.84,165.70 49.49,165.53 50.15,165.46 50.83,165.72 51.53,165.71 52.23,165.64 52.93,165.49 53.64,165.74 54.34,165.70 55.04,165.63 55.72,165.49 56.39,165.87 57.04,165.82 57.66,165.72 58.26,165.85 58.82,165.61 59.36,165.46 59.85,165.31 60.30,166.31 60.70,166.16 61.85,164.99 62.65,164.57 63.20,164.18 63.57,163.53 63.85,163.61 64.13,162.91 64.50,163.06 65.18,162.61 65.75,162.74 66.27,163.14 66.80,163.61 67.17,164.47 67.54,165.08 67.90,166.38 68.26,166.95 68.63,167.65 69.00,167.68 69.44,167.04 69.88,166.45 70.32,165.08 70.79,164.27 71.30,163.71 71.76,163.86 72.25,163.57 72.76,163.24 73.27,162.86 73.79,162.52 74.30,162.39 74.73,162.29 75.17,162.84 75.60,164.01 76.04,164.91 76.46,165.58 76.89,166.20 77.30,166.19 77.76,165.75 78.20,164.90 78.62,163.82 79.06,163.02 79.51,162.70 80.00,163.01 80.40,163.77 80.82,164.77 81.26,165.47 81.71,166.00 82.15,166.18 82.59,166.51 83.01,166.86 83.40,166.78 83.84,166.88 84.20,166.58 84.54,165.79 84.91,165.26 85.38,164.63 86.00,164.10 86.46,163.29 86.98,162.90 87.55,163.02 88.16,163.03 88.79,163.88 89.44,163.97 90.09,164.02 90.75,163.20 91.38,162.38 92.00,162.38 92.60,162.42 93.22,163.22 93.83,163.45 94.45,163.38 95.06,163.40 95.67,163.15 96.27,163.64 96.86,164.07 97.44,164.34 98.00,164.63 98.67,164.71 99.30,163.95 99.90,164.24 100.50,164.09 101.10,165.19 101.70,165.97 102.33,166.38 103.00,166.42 103.54,166.02 104.06,165.50 104.58,165.19 105.11,164.99 105.65,165.28 106.22,165.24 106.83,164.49 107.49,163.94 108.21,163.06 109.00,163.05 109.51,163.77 110.07,164.39 110.66,164.29 111.29,164.51 111.94,163.71 112.61,163.49 113.30,163.26 114.00,164.03 114.69,164.05 115.38,163.93 116.07,163.50 116.73,163.33 117.37,163.48 117.99,164.22 118.57,164.04 119.11,163.86 119.60,163.28 119.95,162.52 120.29,162.03 120.61,160.82 120.92,160.37 121.21,159.48 121.49,158.73 121.76,158.18 122.01,157.77 122.26,157.09 122.50,156.61 122.72,156.03 122.95,155.51 123.16,154.96 123.37,154.11 123.57,153.62 123.76,153.03 123.96,152.20 124.15,151.86 124.34,151.02 124.52,150.80 124.71,150.42 124.90,150.11 125.14,150.33 125.36,150.56 125.57,150.68 125.76,151.08 125.95,151.93 126.13,152.66 126.30,153.24 126.46,154.02 126.62,154.91 126.78,155.81 126.93,156.67 127.09,157.44 127.24,158.37 127.40,159.12 127.56,159.77 127.73,160.32 127.90,160.75 128.08,161.14 128.25,161.80 128.42,162.24 128.59,162.89 128.76,163.35 128.93,164.34 129.10,164.61 129.26,165.65 129.44,166.18 129.61,167.05 129.78,167.72 129.96,168.04 130.14,168.74 130.32,169.70 130.51,170.07 130.70,170.23 130.90,170.66 131.15,170.78 131.41,170.81 131.68,170.36 131.95,169.75 132.23,168.95 132.51,168.20 132.80,167.27 133.09,166.10 133.37,165.17 133.65,164.28 133.92,163.31 134.19,163.10 134.45,162.74 134.70,162.67 134.98,163.10 135.24,163.11 135.49,163.55 135.73,163.98 135.97,164.27 136.20,164.58 136.43,165.12 136.67,165.76 136.91,166.37 137.16,167.22 137.42,167.92 137.70,169.27 137.81,169.71 137.92,170.15 138.03,170.47 138.14,171.16 138.26,172.20 138.37,172.93 138.49,173.66 138.61,174.56 138.73,175.10 138.86,176.03 138.98,177.01 139.10,177.95 139.23,178.81 139.35,179.65 139.48,180.83 139.60,181.38 139.72,182.41 139.85,183.33 139.97,183.75 140.10,184.54 140.22,185.21 140.34,185.76 140.47,186.61 140.59,187.06 140.71,187.10 140.83,187.41 140.94,187.96 141.06,188.13 141.17,188.04 141.28,188.53 141.39,188.54 141.50,188.32 141.61,187.94 141.72,187.77 141.82,187.81 141.93,187.39 142.04,186.87 142.14,186.67 142.25,185.74 142.35,185.53 142.45,185.04 142.55,184.43 142.65,183.44 142.75,183.09 142.85,182.35 142.95,181.69 143.05,180.74 143.14,180.42 143.24,179.69 143.33,178.53 143.43,178.00 143.52,177.25 143.61,176.46 143.70,175.67 143.80,174.89 143.89,174.42 143.98,173.62 144.06,172.91 144.15,172.29 144.24,171.56 144.33,171.28 144.41,170.67 144.50,169.92 144.64,169.11 144.78,168.39 144.92,167.61 145.04,166.91 145.17,166.11 145.29,164.88 145.41,164.52 145.53,163.35 145.65,162.93 145.77,162.37 145.89,161.46 146.01,160.92 146.13,160.34 146.26,160.08 146.38,159.90 146.52,159.17 146.66,159.32 146.80,158.98 147.10,159.26 147.36,159.48 147.61,160.13 147.88,160.90 148.20,162.04 148.60,162.50 149.13,162.80 149.80,162.43 150.24,162.29 150.75,162.08 151.33,162.44 151.95,163.18 152.61,163.89 153.29,163.57 154.00,163.02 154.70,162.73 155.41,162.85 156.09,162.79 156.75,162.79 157.37,162.25 157.95,162.00 158.46,161.35 158.90,160.97 159.20,160.54 159.48,160.15 159.72,159.78 159.94,159.43 160.14,159.18 160.32,158.52 160.48,157.70 160.63,157.40 160.76,156.68 160.89,155.53 161.00,154.83 161.11,154.31 161.21,153.59 161.32,153.10 161.42,152.18 161.53,152.00 161.64,151.19 161.77,150.68 161.90,150.77 162.16,150.25 162.41,150.08 162.64,149.81 162.88,150.49 163.10,150.65 163.32,151.44 163.54,152.52 163.76,153.18 163.98,154.29 164.20,155.83 164.28,156.29 164.37,157.08 164.45,157.72 164.53,158.09 164.61,159.00 164.69,159.39 164.77,160.52 164.86,161.19 164.94,161.95 165.02,162.77 165.10,163.69 165.18,164.51 165.26,165.26 165.34,165.92 165.42,166.71 165.50,167.46 165.58,168.60 165.66,169.07 165.74,169.72 165.83,170.54 165.91,170.66 165.99,171.50 166.07,171.94 166.15,172.04 166.23,172.44 166.32,172.27 166.40,172.55 166.51,172.33 166.63,172.51 166.74,172.30 166.86,171.83 166.97,171.08 167.09,170.59 167.20,169.82 167.32,168.73 167.43,168.09 167.55,167.17 167.67,166.51 167.78,165.65 167.90,164.70 168.01,163.94 168.13,163.29 168.24,162.87 168.36,162.44 168.47,161.87 168.59,161.61 168.70,161.03 169.20,160.66 169.66,161.12 170.18,161.47 170.90,161.66 171.37,161.30 171.92,161.37 172.52,162.25 173.15,162.62 173.79,163.15 174.41,163.24 174.99,163.04 175.50,163.33 175.75,164.08 175.99,164.58 176.23,165.10 176.46,165.64 176.68,166.25 176.90,167.03 177.10,168.01 177.31,168.63 177.50,169.58 177.69,170.46 177.86,171.07 178.03,171.29 178.20,171.78 178.35,172.10 178.50,172.88 178.87,173.80 179.13,174.59 179.35,175.19 179.55,175.43 179.80,175.42 179.91,174.92 180.01,174.76 180.12,174.67 180.22,174.15 180.33,173.62 180.43,173.08 180.54,172.61 180.66,172.34 180.77,171.60 180.90,171.00 181.02,170.36 181.16,169.54 181.30,168.62 181.36,167.99 181.43,167.92 181.50,167.16 181.57,166.61 181.65,165.97 181.72,165.61 181.80,165.04 181.88,164.11 181.96,163.42 182.04,162.88 182.12,162.18 182.20,161.28 182.28,160.85 182.37,159.84 182.45,158.97 182.53,158.46 182.62,157.67 182.70,156.66 182.78,155.92 182.86,155.22 182.94,154.33 183.02,154.05 183.10,153.05 183.18,152.44 183.25,152.12 183.33,151.46 183.40,151.08 183.47,150.41 183.54,150.31 183.60,150.17 183.78,149.62 183.95,148.98 184.10,149.21 184.24,149.71 184.38,150.58 184.52,151.42 184.65,152.42 184.79,153.40 184.94,154.46 185.10,155.77 185.17,156.15 185.24,156.95 185.31,157.74 185.38,158.00 185.45,159.11 185.52,159.90 185.60,160.43 185.67,161.07 185.74,162.06 185.82,162.85 185.89,163.91 185.97,164.86 186.04,165.64 186.12,166.04 186.20,166.77 186.27,167.55 186.35,168.10 186.43,168.87 186.51,169.36 186.58,169.48 186.66,169.94 186.74,170.30 186.82,170.44 186.90,170.65 186.99,170.23 187.08,169.99 187.18,169.75 187.28,169.13 187.37,168.49 187.47,168.20 187.57,167.27 187.67,166.11 187.77,165.59 187.87,164.37 187.97,163.87 188.07,162.60 188.17,161.79 188.26,160.81 188.36,160.12 188.45,159.36 188.55,159.02 188.64,158.60 188.73,157.77 188.82,157.54 188.90,157.68 189.05,157.58 189.17,158.07 189.28,158.41 189.39,159.10 189.49,160.22 189.59,161.23 189.71,162.12 189.84,163.36 189.99,164.29 190.18,164.87 190.40,165.32 190.87,165.36 191.41,164.78 192.02,163.72 192.69,162.77 193.41,162.93 194.20,163.28 194.72,163.36 195.28,163.19 195.89,162.28 196.51,162.29 197.16,162.18 197.80,162.10 198.44,162.12 199.06,162.17 199.65,161.61 200.20,160.77 200.92,160.12 201.60,160.31 202.23,160.83 202.85,161.33 203.46,161.33 204.07,160.61 204.70,160.25 205.14,160.59 205.57,160.91 206.00,161.62 206.42,162.66 206.85,163.02 207.28,164.00 207.73,164.29 208.20,164.57 208.69,164.44 209.20,164.80 209.66,164.72 210.16,164.97 210.69,165.21 211.23,165.00 211.79,164.27 212.34,163.47 212.90,162.16 213.44,161.45 213.96,161.08 214.44,161.08 214.90,161.00 215.30,161.18 215.87,161.49 216.30,161.87 216.65,162.20 216.97,162.83 217.31,163.22 217.74,163.72 218.30,164.54 218.77,164.51 219.28,164.64 219.83,164.94 220.41,163.91 221.01,163.00 221.64,162.22 222.29,162.12 222.95,162.44 223.62,162.71 224.30,163.05 224.89,162.71 225.51,161.99 226.16,161.43 226.83,161.38 227.51,161.97 228.19,161.67 228.87,161.67 229.54,160.87 230.18,160.95 230.79,160.90 231.37,161.66 231.90,161.85 232.69,162.29 233.37,162.22 233.96,161.95 234.52,161.87 235.09,162.17 235.70,162.75 236.40,163.15 236.94,163.11 237.50,162.77 238.07,162.66 238.66,162.55 239.26,162.58 239.88,162.75 240.52,163.17 241.16,162.92 241.83,162.12 242.50,161.33 243.03,161.44 243.48,161.36 243.90,161.70 244.31,162.50 244.72,162.88 245.17,163.36 245.68,163.04 246.27,162.81 246.97,162.78 247.81,162.82 248.81,163.42 250.00,162.95 250.41,162.52 250.86,162.04 251.34,162.13 251.85,162.65 252.39,162.72 252.96,163.60 253.55,163.95 254.16,163.59 254.79,162.87 255.44,162.46 256.11,162.35 256.79,162.61 257.49,163.20 258.19,163.07 258.91,162.36 259.63,162.12 260.35,162.84 261.08,163.29 261.81,163.56 262.53,162.92 263.25,162.50 263.97,162.02 264.68,162.10 265.38,162.85 266.07,162.82 266.74,163.00 267.40,162.39 268.05,162.54 268.67,162.50 269.27,162.90 269.85,162.95 270.40,162.70 270.93,162.38 271.43,162.04 271.89,161.76 272.32,161.78 272.72,161.86 273.08,162.15 273.40,162.53" fill="none" stroke="#f0675a" stroke-width="1.05" stroke-linejoin="round" stroke-dasharray="3.4,2" opacity="1"/>
</g>
<line x1="45.25" y1="143.6" x2="45.25" y2="195.5" stroke="#f24a28" stroke-width="1.6" stroke-dasharray="5.9,5.5"/>
<rect x="26.5" y="138.5" width="247.0" height="57.0" fill="none" stroke="#7c7c7c" stroke-width="1"/>
<line x1="80.94999999999999" y1="195.5" x2="80.94999999999999" y2="193.3" stroke="#7c7c7c" stroke-width="1"/>
<line x1="80.94999999999999" y1="138.5" x2="80.94999999999999" y2="140.7" stroke="#7c7c7c" stroke-width="1"/>
<line x1="135.5" y1="195.5" x2="135.5" y2="193.3" stroke="#7c7c7c" stroke-width="1"/>
<line x1="135.5" y1="138.5" x2="135.5" y2="140.7" stroke="#7c7c7c" stroke-width="1"/>
<line x1="190.05" y1="195.5" x2="190.05" y2="193.3" stroke="#7c7c7c" stroke-width="1"/>
<line x1="190.05" y1="138.5" x2="190.05" y2="140.7" stroke="#7c7c7c" stroke-width="1"/>
<line x1="244.6" y1="195.5" x2="244.6" y2="193.3" stroke="#7c7c7c" stroke-width="1"/>
<line x1="244.6" y1="138.5" x2="244.6" y2="140.7" stroke="#7c7c7c" stroke-width="1"/>
<line x1="26.5" y1="145.6" x2="28.7" y2="145.6" stroke="#7c7c7c" stroke-width="1"/>
<line x1="273.5" y1="145.6" x2="271.3" y2="145.6" stroke="#7c7c7c" stroke-width="1"/>
<line x1="26.5" y1="162.7" x2="28.7" y2="162.7" stroke="#7c7c7c" stroke-width="1"/>
<line x1="273.5" y1="162.7" x2="271.3" y2="162.7" stroke="#7c7c7c" stroke-width="1"/>
<line x1="26.5" y1="180.0" x2="28.7" y2="180.0" stroke="#7c7c7c" stroke-width="1"/>
<line x1="273.5" y1="180.0" x2="271.3" y2="180.0" stroke="#7c7c7c" stroke-width="1"/>
<text x="26.4" y="202.3" font-family="Liberation Serif, DejaVu Serif, serif" font-size="6.5" fill="#444" text-anchor="middle">0</text>
<text x="80.94999999999999" y="202.3" font-family="Liberation Serif, DejaVu Serif, serif" font-size="6.5" fill="#444" text-anchor="middle">10</text>
<text x="135.5" y="202.3" font-family="Liberation Serif, DejaVu Serif, serif" font-size="6.5" fill="#444" text-anchor="middle">20</text>
<text x="190.05" y="202.3" font-family="Liberation Serif, DejaVu Serif, serif" font-size="6.5" fill="#444" text-anchor="middle">30</text>
<text x="244.6" y="202.3" font-family="Liberation Serif, DejaVu Serif, serif" font-size="6.5" fill="#444" text-anchor="middle">40</text>
<text x="24.8" y="147.29999999999998" font-family="Liberation Serif, DejaVu Serif, serif" font-size="6.5" fill="#444" text-anchor="end">20</text>
<text x="24.8" y="164.39999999999998" font-family="Liberation Serif, DejaVu Serif, serif" font-size="6.5" fill="#444" text-anchor="end">0</text>
<text x="24.8" y="181.7" font-family="Liberation Serif, DejaVu Serif, serif" font-size="6.5" fill="#444" text-anchor="end">−20</text>
<text transform="translate(11.4,166.5) rotate(-90)" font-family="Liberation Sans, Arial, sans-serif" font-size="9.0" fill="#2a2a2a" text-anchor="middle"><tspan font-family="Liberation Serif, DejaVu Serif, serif" font-style="italic">ϕ</tspan> (deg)</text>
<defs><clipPath id="c1"><rect x="26.5" y="207.5" width="247" height="56.0"/></clipPath></defs>
<rect x="50.6" y="207.5" width="222.9" height="56.0" fill="#e5e5e5"/>
<line x1="80.94999999999999" y1="207.5" x2="80.94999999999999" y2="263.5" stroke="#cfcfcf" stroke-width="0.8"/>
<line x1="135.5" y1="207.5" x2="135.5" y2="263.5" stroke="#cfcfcf" stroke-width="0.8"/>
<line x1="190.05" y1="207.5" x2="190.05" y2="263.5" stroke="#cfcfcf" stroke-width="0.8"/>
<line x1="244.6" y1="207.5" x2="244.6" y2="263.5" stroke="#cfcfcf" stroke-width="0.8"/>
<line x1="26.5" y1="213.3" x2="50.6" y2="213.3" stroke="#e2e2e2" stroke-width="0.8"/>
<line x1="50.6" y1="213.3" x2="273.5" y2="213.3" stroke="#cfcfcf" stroke-width="0.8"/>
<line x1="26.5" y1="232.5" x2="50.6" y2="232.5" stroke="#e2e2e2" stroke-width="0.8"/>
<line x1="50.6" y1="232.5" x2="273.5" y2="232.5" stroke="#cfcfcf" stroke-width="0.8"/>
<line x1="26.5" y1="251.7" x2="50.6" y2="251.7" stroke="#e2e2e2" stroke-width="0.8"/>
<line x1="50.6" y1="251.7" x2="273.5" y2="251.7" stroke="#cfcfcf" stroke-width="0.8"/>
<g clip-path="url(#c1)">
<polyline points="26.40,232.57 26.72,232.39 27.06,232.40 27.43,232.43 27.84,232.27 28.26,232.40 28.72,232.45 29.19,232.52 29.70,232.24 30.22,232.32 30.76,232.24 31.33,232.53 31.91,232.48 32.51,232.23 33.13,232.60 33.77,232.60 34.41,232.48 35.08,232.46 35.75,232.28 36.44,232.23 37.13,232.43 37.84,232.25 38.55,232.30 39.28,232.32 40.00,232.24 40.73,232.41 41.47,232.41 42.21,232.57 42.95,232.44 43.69,232.49 44.43,232.43 45.17,232.50 45.91,232.42 46.64,232.34 47.37,232.63 48.09,232.63 48.81,232.56 49.51,232.51 50.21,232.35 50.90,232.31 51.58,232.33 52.24,232.24 52.89,232.52 53.53,232.37 54.15,232.54 54.76,232.35 55.34,232.57 55.91,232.52 56.46,232.18 56.99,232.25 57.49,232.53 57.97,232.34 58.43,232.54 58.86,232.29 59.27,232.15 59.65,232.36 60.00,232.41 62.12,231.50 63.29,231.77 63.77,232.02 63.83,232.08 63.71,231.72 63.68,231.24 64.00,231.28 64.59,231.05 65.20,230.56 65.81,230.44 66.42,230.09 67.02,230.35 67.62,230.33 68.20,230.06 68.72,230.17 69.17,230.10 69.60,230.78 70.05,231.28 70.57,232.25 71.20,232.81 72.00,232.73 72.48,232.64 73.02,232.23 73.60,231.95 74.23,232.33 74.88,232.12 75.56,231.89 76.26,231.67 76.95,231.51 77.64,231.56 78.32,232.02 78.97,231.33 79.59,230.74 80.17,230.56 80.70,230.43 81.43,230.98 82.09,231.42 82.69,231.63 83.25,231.88 83.78,231.91 84.31,232.41 84.84,232.79 85.40,233.17 86.00,233.33 86.58,232.77 87.17,232.45 87.78,232.55 88.40,232.60 89.02,232.88 89.64,233.07 90.25,232.54 90.85,231.81 91.44,231.61 92.00,231.98 92.69,232.34 93.37,232.07 94.04,232.27 94.69,232.40 95.32,232.83 95.91,233.36 96.48,233.52 97.00,233.36 97.48,233.37 97.59,232.93 97.76,232.88 98.42,232.33 100.00,233.24 100.37,233.19 100.80,232.98 101.26,232.77 101.76,232.90 102.30,232.77 102.87,233.13 103.48,233.45 104.11,233.38 104.76,232.84 105.43,232.48 106.12,233.08 106.83,233.41 107.55,233.60 108.27,233.42 109.00,233.17 109.73,233.10 110.46,233.43 111.19,233.48 111.90,233.23 112.61,232.92 113.30,233.38 113.98,234.10 114.63,234.24 115.26,233.73 115.86,233.22 116.44,232.93 116.98,232.82 117.48,232.98 117.95,233.08 118.37,233.36 118.75,233.06 119.46,232.61 120.02,231.88 120.47,231.89 120.80,231.54 121.05,231.24 121.22,230.58 121.33,230.28 121.41,229.29 121.46,228.82 121.49,228.22 121.54,227.58 121.62,226.78 121.73,226.01 121.90,225.23 122.04,224.69 122.17,223.82 122.31,223.26 122.45,222.63 122.59,221.87 122.72,220.92 122.86,220.30 122.99,219.56 123.12,218.69 123.25,217.98 123.38,217.17 123.51,216.56 123.63,215.92 123.75,215.09 123.87,214.73 123.98,214.32 124.09,213.76 124.20,213.22 124.31,212.65 124.40,212.39 124.50,211.97 124.75,210.93 124.94,210.15 125.10,209.02 125.24,208.62 125.39,207.88 125.57,207.88 125.80,207.87 125.94,207.89 126.10,208.26 126.26,208.44 126.43,208.81 126.61,209.34 126.79,209.57 126.97,210.05 127.16,210.84 127.35,211.76 127.54,212.42 127.73,213.33 127.92,214.62 128.10,215.56 128.18,215.95 128.25,216.64 128.32,216.96 128.39,217.67 128.46,218.08 128.53,218.79 128.59,219.58 128.65,220.28 128.72,220.94 128.78,221.42 128.84,222.19 128.91,222.78 128.97,223.40 129.04,224.24 129.11,225.06 129.18,225.74 129.25,226.36 129.32,227.10 129.40,227.47 129.47,228.04 129.56,228.75 129.64,229.24 129.73,229.76 129.83,230.35 129.93,230.91 130.03,231.31 130.14,231.65 130.25,232.25 130.37,232.66 130.50,232.78 130.98,233.55 131.56,234.32 132.19,235.13 132.86,234.61 133.54,234.13 134.21,233.40 134.84,233.17 135.42,233.71 135.90,234.01 136.11,234.43 136.30,234.93 136.47,235.14 136.64,235.86 136.79,236.06 136.93,236.48 137.06,236.94 137.18,237.70 137.29,238.20 137.40,238.88 137.51,239.53 137.62,240.27 137.72,241.05 137.83,241.68 137.94,242.27 138.05,243.20 138.17,243.93 138.30,244.74 138.38,245.47 138.45,246.16 138.53,246.58 138.60,247.29 138.68,248.02 138.75,248.89 138.82,249.58 138.90,250.39 138.97,251.23 139.05,251.89 139.12,252.85 139.19,253.70 139.27,254.17 139.34,255.30 139.41,256.00 139.49,256.53 139.56,257.40 139.63,258.19 139.71,259.00 139.78,259.45 139.85,260.15 139.93,260.86 140.00,261.38 140.08,261.94 140.15,262.20 140.22,262.67 140.30,262.84 140.37,263.34 140.45,263.60 140.52,263.69 140.60,263.82 140.73,263.65 140.86,263.81 141.00,263.60 141.13,263.24 141.26,262.61 141.40,262.18 141.53,261.40 141.67,260.97 141.80,260.25 141.93,259.31 142.07,258.44 142.20,257.80 142.34,257.05 142.47,256.34 142.60,255.42 142.74,254.45 142.87,253.99 143.00,252.94 143.08,252.77 143.16,252.02 143.24,251.55 143.32,251.17 143.40,250.31 143.48,249.69 143.56,249.18 143.64,248.59 143.72,247.95 143.80,247.18 143.88,246.56 143.96,245.65 144.04,245.09 144.12,244.01 144.20,243.32 144.28,242.71 144.36,241.90 144.44,241.36 144.51,240.63 144.59,239.90 144.66,239.37 144.74,238.63 144.81,237.93 144.89,237.38 144.96,237.03 145.03,236.55 145.10,235.81 145.17,235.65 145.23,235.31 145.30,234.81 145.48,233.24 145.59,233.38 146.90,234.08 147.29,233.85 147.75,233.52 148.27,232.93 148.85,233.25 149.48,233.43 150.14,233.84 150.84,234.01 151.57,233.43 152.31,232.96 153.06,233.09 153.81,233.06 154.55,233.11 155.29,232.71 156.00,232.89 156.68,233.27 157.33,233.37 157.93,233.40 158.48,232.87 158.97,232.58 159.40,232.52 160.57,233.14 161.17,233.65 161.48,234.05 161.83,234.31 162.50,234.41 162.99,234.44 163.53,234.20 164.10,234.66 164.71,234.40 165.35,234.09 166.01,233.48 166.68,233.28 167.37,233.31 168.06,233.71 168.75,233.84 169.29,233.29 169.86,233.06 170.44,232.49 171.03,232.59 171.64,232.52 172.25,232.31 172.85,231.99 173.46,231.51 174.05,231.35 174.63,231.57 175.20,231.84 175.74,231.64 176.25,231.26 176.95,230.59 177.63,229.99 178.28,229.79 178.90,229.92 179.50,229.63 180.07,229.30 180.63,228.64 181.17,228.70 181.70,228.90 182.33,229.36 182.90,229.40 183.44,229.46 183.95,229.70 184.47,229.56 185.01,230.32 185.60,231.02 186.11,231.38 186.57,231.92 187.03,232.38 187.51,232.28 188.04,232.25 188.67,232.73 189.41,232.96 190.30,233.15 190.75,232.62 191.24,232.37 191.76,232.27 192.31,232.09 192.89,232.47 193.49,232.86 194.10,232.71 194.74,232.10 195.38,231.17 196.04,231.14 196.70,231.35 197.37,231.24 198.03,231.00 198.70,230.47 199.35,230.43 200.00,230.78 200.63,231.01 201.25,231.09 201.83,230.69 202.42,230.43 203.01,230.40 203.61,230.98 204.21,231.63 204.82,232.27 205.42,232.43 206.02,232.47 206.62,232.46 207.22,232.98 207.81,233.80 208.40,233.75 208.97,233.77 209.54,233.55 210.10,233.88 210.65,234.48 211.18,235.04 211.70,235.44 212.20,235.16 212.89,234.98 213.54,234.67 214.15,234.33 214.73,234.46 215.29,234.42 215.83,233.87 216.37,233.23 216.92,232.80 217.47,232.81 218.05,232.70 218.66,233.04 219.31,232.57 220.00,231.73 220.54,231.30 221.11,231.04 221.71,231.10 222.33,231.33 222.98,231.13 223.63,230.89 224.30,230.52 224.97,230.34 225.64,230.69 226.31,230.37 226.97,229.77 227.61,229.27 228.24,229.07 228.83,229.62 229.41,229.97 229.94,229.96 230.44,229.80 230.90,229.54 231.61,229.31 232.19,229.85 232.67,230.20 233.08,230.89 233.44,231.45 233.79,231.67 234.16,232.12 234.56,232.49 235.03,232.77 235.60,233.06 236.10,233.76 236.64,233.89 237.21,233.58 237.81,233.11 238.43,232.40 239.06,232.04 239.70,232.01 240.35,232.28 240.99,231.87 241.62,231.44 242.24,231.18 242.83,231.32 243.40,231.16 243.98,231.47 244.45,231.34 244.83,230.89 245.18,230.74 245.53,230.47 245.93,230.56 246.41,230.92 247.02,231.39 247.79,231.95 248.77,231.99 250.00,231.73 250.40,231.88 250.84,232.22 251.31,232.07 251.82,232.05 252.35,231.61 252.91,231.53 253.49,231.46 254.10,232.18 254.73,232.64 255.38,232.26 256.05,232.15 256.73,231.51 257.42,231.77 258.13,231.98 258.84,232.17 259.56,231.97 260.29,231.70 261.02,232.44 261.75,232.62 262.48,232.52 263.20,231.98 263.92,231.56 264.64,231.81 265.34,232.46 266.03,232.60 266.71,232.26 267.37,232.24 268.02,232.18 268.65,232.33 269.25,232.48 269.84,232.14 270.39,231.82 270.92,231.89 271.42,231.88 271.89,232.45 272.32,232.76 272.72,232.72 273.08,233.14 273.40,233.03" fill="none" stroke="#93c793" stroke-width="1.0" stroke-linejoin="round" opacity="1"/>
<polyline points="26.40,232.57 26.72,232.39 27.06,232.40 27.43,232.43 27.84,232.27 28.26,232.40 28.72,232.45 29.19,232.52 29.70,232.24 30.22,232.32 30.76,232.24 31.33,232.53 31.91,232.48 32.51,232.23 33.13,232.60 33.77,232.60 34.41,232.48 35.08,232.46 35.75,232.28 36.44,232.23 37.13,232.43 37.84,232.25 38.55,232.30 39.28,232.32 40.00,232.24 40.73,232.41 41.47,232.41 42.21,232.57 42.95,232.44 43.69,232.49 44.43,232.43 45.17,232.50 45.91,232.42 46.64,232.34 47.37,232.63 48.09,232.63 48.81,232.56 49.51,232.51 50.21,232.35 50.90,232.31 51.58,232.33 52.24,232.24 52.89,232.52 53.53,232.37 54.15,232.54 54.76,232.35 55.34,232.57 55.91,232.52 56.46,232.18 56.99,232.25 57.49,232.53 57.97,232.34 58.43,232.54 58.86,232.29 59.27,232.15 59.65,232.36 60.00,232.41 62.12,231.50 63.29,231.77 63.77,232.02 63.83,232.08 63.71,231.72 63.68,231.24 64.00,231.28 64.59,231.05 65.20,230.56 65.81,230.44 66.42,230.09 67.02,230.35 67.62,230.33 68.20,230.06 68.72,230.17 69.17,230.10 69.60,230.78 70.05,231.28 70.57,232.25 71.20,232.81 72.00,232.73 72.48,232.64 73.02,232.23 73.60,231.95 74.23,232.33 74.88,232.12 75.56,231.89 76.26,231.67 76.95,231.51 77.64,231.56 78.32,232.02 78.97,231.33 79.59,230.74 80.17,230.56 80.70,230.43 81.43,230.98 82.09,231.42 82.69,231.63 83.25,231.88 83.78,231.91 84.31,232.41 84.84,232.79 85.40,233.17 86.00,233.33 86.58,232.77 87.17,232.45 87.78,232.55 88.40,232.60 89.02,232.88 89.64,233.07 90.25,232.54 90.85,231.81 91.44,231.61 92.00,231.98 92.69,232.34 93.37,232.07 94.04,232.27 94.69,232.40 95.32,232.83 95.91,233.36 96.48,233.52 97.00,233.36 97.48,233.37 97.59,232.93 97.76,232.88 98.42,232.33 100.00,233.24 100.37,233.19 100.80,232.98 101.26,232.77 101.76,232.90 102.30,232.77 102.87,233.13 103.48,233.45 104.11,233.38 104.76,232.84 105.43,232.48 106.12,233.08 106.83,233.41 107.55,233.60 108.27,233.42 109.00,233.17 109.73,233.10 110.46,233.43 111.19,233.48 111.90,233.23 112.61,232.92 113.30,233.38 113.98,234.10 114.63,234.24 115.26,233.73 115.86,233.22 116.44,232.93 116.98,232.82 117.48,232.98 117.95,233.08 118.37,233.36 118.75,233.06 119.46,232.61 120.02,231.88 120.47,231.89 120.80,231.54 121.05,231.24 121.22,230.58 121.33,230.28 121.41,229.29 121.46,228.82 121.49,228.22 121.54,227.58 121.62,226.78 121.73,226.01 121.90,225.23 122.04,224.69 122.17,223.82 122.31,223.26 122.45,222.63 122.59,221.87 122.72,220.92 122.86,220.30 122.99,219.56 123.12,218.69 123.25,217.98 123.38,217.17 123.51,216.56 123.63,215.92 123.75,215.09 123.87,214.73 123.98,214.32 124.09,213.76 124.20,213.22 124.31,212.65 124.40,212.39 124.50,211.97 124.75,210.93 124.94,210.15 125.10,209.02 125.24,208.62 125.39,207.88 125.57,207.88 125.80,207.87 125.94,207.89 126.10,208.26 126.26,208.44 126.43,208.81 126.61,209.34 126.79,209.57 126.97,210.05 127.16,210.84 127.35,211.76 127.54,212.42 127.73,213.33 127.92,214.62 128.10,215.56 128.18,215.95 128.25,216.64 128.32,216.96 128.39,217.67 128.46,218.08 128.53,218.79 128.59,219.58 128.65,220.28 128.72,220.94 128.78,221.42 128.84,222.19 128.91,222.78 128.97,223.40 129.04,224.24 129.11,225.06 129.18,225.74 129.25,226.36 129.32,227.10 129.40,227.47 129.47,228.04 129.56,228.75 129.64,229.24 129.73,229.76 129.83,230.35 129.93,230.91 130.03,231.31 130.14,231.65 130.25,232.25 130.37,232.66 130.50,232.78 130.98,233.55 131.56,234.32 132.19,235.13 132.86,234.61 133.54,234.13 134.21,233.40 134.84,233.17 135.42,233.71 135.90,234.01 136.11,234.43 136.30,234.93 136.47,235.14 136.64,235.86 136.79,236.06 136.93,236.48 137.06,236.94 137.18,237.70 137.29,238.20 137.40,238.88 137.51,239.53 137.62,240.27 137.72,241.05 137.83,241.68 137.94,242.27 138.05,243.20 138.17,243.93 138.30,244.74 138.38,245.47 138.45,246.16 138.53,246.58 138.60,247.29 138.68,248.02 138.75,248.89 138.82,249.58 138.90,250.39 138.97,251.23 139.05,251.89 139.12,252.85 139.19,253.70 139.27,254.17 139.34,255.30 139.41,256.00 139.49,256.53 139.56,257.40 139.63,258.19 139.71,259.00 139.78,259.45 139.85,260.15 139.93,260.86 140.00,261.38 140.08,261.94 140.15,262.20 140.22,262.67 140.30,262.84 140.37,263.34 140.45,263.60 140.52,263.69 140.60,263.82 140.73,263.65 140.86,263.81 141.00,263.60 141.13,263.24 141.26,262.61 141.40,262.18 141.53,261.40 141.67,260.97 141.80,260.25 141.93,259.31 142.07,258.44 142.20,257.80 142.34,257.05 142.47,256.34 142.60,255.42 142.74,254.45 142.87,253.99 143.00,252.94 143.08,252.77 143.16,252.02 143.24,251.55 143.32,251.17 143.40,250.31 143.48,249.69 143.56,249.18 143.64,248.59 143.72,247.95 143.80,247.18 143.88,246.56 143.96,245.65 144.04,245.09 144.12,244.01 144.20,243.32 144.28,242.71 144.36,241.90 144.44,241.36 144.51,240.63 144.59,239.90 144.66,239.37 144.74,238.63 144.81,237.93 144.89,237.38 144.96,237.03 145.03,236.55 145.10,235.81 145.17,235.65 145.23,235.31 145.30,234.81 145.48,233.24 145.59,233.38 146.90,234.08 147.29,233.85 147.75,233.52 148.27,232.93 148.85,233.25 149.48,233.43 150.14,233.84 150.84,234.01 151.57,233.43 152.31,232.96 153.06,233.09 153.81,233.06 154.55,233.11 155.29,232.71 156.00,232.89 156.68,233.27 157.33,233.37 157.93,233.40 158.48,232.87 158.97,232.58 159.40,232.52 160.57,233.14 161.17,233.65 161.48,234.05 161.83,234.31 162.50,234.41 162.99,234.44 163.53,234.20 164.10,234.66 164.71,234.40 165.35,234.09 166.01,233.48 166.68,233.28 167.37,233.31 168.06,233.71 168.75,233.84 169.29,233.29 169.86,233.06 170.44,232.49 171.03,232.59 171.64,232.52 172.25,232.31 172.85,231.99 173.46,231.51 174.05,231.35 174.63,231.57 175.20,231.84 175.74,231.64 176.25,231.26 176.95,230.59 177.63,229.99 178.28,229.79 178.90,229.92 179.50,229.63 180.07,229.30 180.63,228.64 181.17,228.70 181.70,228.90 182.33,229.36 182.90,229.40 183.44,229.46 183.95,229.70 184.47,229.56 185.01,230.32 185.60,231.02 186.11,231.38 186.57,231.92 187.03,232.38 187.51,232.28 188.04,232.25 188.67,232.73 189.41,232.96 190.30,233.15 190.75,232.62 191.24,232.37 191.76,232.27 192.31,232.09 192.89,232.47 193.49,232.86 194.10,232.71 194.74,232.10 195.38,231.17 196.04,231.14 196.70,231.35 197.37,231.24 198.03,231.00 198.70,230.47 199.35,230.43 200.00,230.78 200.63,231.01 201.25,231.09 201.83,230.69 202.42,230.43 203.01,230.40 203.61,230.98 204.21,231.63 204.82,232.27 205.42,232.43 206.02,232.47 206.62,232.46 207.22,232.98 207.81,233.80 208.40,233.75 208.97,233.77 209.54,233.55 210.10,233.88 210.65,234.48 211.18,235.04 211.70,235.44 212.20,235.16 212.89,234.98 213.54,234.67 214.15,234.33 214.73,234.46 215.29,234.42 215.83,233.87 216.37,233.23 216.92,232.80 217.47,232.81 218.05,232.70 218.66,233.04 219.31,232.57 220.00,231.73 220.54,231.30 221.11,231.04 221.71,231.10 222.33,231.33 222.98,231.13 223.63,230.89 224.30,230.52 224.97,230.34 225.64,230.69 226.31,230.37 226.97,229.77 227.61,229.27 228.24,229.07 228.83,229.62 229.41,229.97 229.94,229.96 230.44,229.80 230.90,229.54 231.61,229.31 232.19,229.85 232.67,230.20 233.08,230.89 233.44,231.45 233.79,231.67 234.16,232.12 234.56,232.49 235.03,232.77 235.60,233.06 236.10,233.76 236.64,233.89 237.21,233.58 237.81,233.11 238.43,232.40 239.06,232.04 239.70,232.01 240.35,232.28 240.99,231.87 241.62,231.44 242.24,231.18 242.83,231.32 243.40,231.16 243.98,231.47 244.45,231.34 244.83,230.89 245.18,230.74 245.53,230.47 245.93,230.56 246.41,230.92 247.02,231.39 247.79,231.95 248.77,231.99 250.00,231.73 250.40,231.88 250.84,232.22 251.31,232.07 251.82,232.05 252.35,231.61 252.91,231.53 253.49,231.46 254.10,232.18 254.73,232.64 255.38,232.26 256.05,232.15 256.73,231.51 257.42,231.77 258.13,231.98 258.84,232.17 259.56,231.97 260.29,231.70 261.02,232.44 261.75,232.62 262.48,232.52 263.20,231.98 263.92,231.56 264.64,231.81 265.34,232.46 266.03,232.60 266.71,232.26 267.37,232.24 268.02,232.18 268.65,232.33 269.25,232.48 269.84,232.14 270.39,231.82 270.92,231.89 271.42,231.88 271.89,232.45 272.32,232.76 272.72,232.72 273.08,233.14 273.40,233.03" fill="none" stroke="#333333" stroke-width="1.0" stroke-linejoin="round" stroke-dasharray="3,1.1" opacity="1"/>
<polyline points="26.40,232.32 26.72,232.24 27.09,232.10 27.49,232.39 27.94,232.39 28.41,232.24 28.93,232.23 29.47,232.09 30.04,231.97 30.63,232.15 31.25,232.26 31.88,231.99 32.54,232.35 33.21,232.07 33.89,232.06 34.58,231.96 35.29,232.43 35.99,232.30 36.70,232.36 37.41,232.22 38.11,231.92 38.81,232.06 39.51,232.13 40.19,231.93 40.86,232.34 41.52,232.03 42.16,231.91 42.78,232.23 43.37,231.87 43.94,232.25 44.49,232.00 45.00,232.03 45.76,231.89 46.51,231.92 47.24,231.72 47.96,231.59 48.66,231.95 49.35,231.58 50.02,231.79 50.67,231.44 51.31,231.75 51.93,231.65 52.53,231.52 53.12,231.46 53.70,231.31 54.25,231.33 54.79,230.97 55.32,231.10 55.83,231.24 56.32,230.89 56.79,231.23 57.25,231.19 58.17,230.96 58.96,231.00 59.64,231.14 60.24,231.45 60.78,231.58 61.31,231.25 61.83,231.26 62.39,231.58 63.00,232.04 63.60,231.90 64.22,230.95 64.84,230.15 65.48,229.73 66.11,229.89 66.73,229.97 67.34,230.37 67.92,230.15 68.48,229.68 69.00,228.93 69.67,228.65 70.26,229.10 70.80,230.12 71.32,230.59 71.84,231.26 72.39,231.27 73.00,230.96 73.51,230.71 74.04,231.03 74.59,231.17 75.15,231.18 75.72,231.28 76.30,230.78 76.87,230.02 77.44,229.10 78.00,228.18 78.62,228.25 79.25,228.38 79.88,228.34 80.50,228.33 81.12,227.65 81.75,227.08 82.38,226.83 83.00,227.38 83.56,227.45 84.13,227.77 84.70,228.22 85.28,228.05 85.85,227.76 86.41,228.10 86.96,228.25 87.49,229.11 88.00,229.79 88.62,230.21 89.21,229.84 89.77,229.16 90.32,228.63 90.86,228.47 91.42,228.40 92.00,228.39 92.58,228.29 93.15,227.93 93.72,227.84 94.30,227.23 94.92,227.31 95.58,227.47 96.30,228.38 96.81,229.08 97.38,229.10 97.99,228.82 98.62,228.29 99.27,228.20 99.91,228.77 100.53,229.62 101.13,229.88 101.68,230.18 102.18,230.01 102.60,230.17 103.51,229.69 103.96,229.85 104.70,230.21 105.22,229.87 105.81,229.94 106.45,229.41 107.14,229.07 107.87,229.13 108.63,229.80 109.40,230.70 109.97,231.20 110.58,231.05 111.22,230.44 111.88,230.46 112.55,230.88 113.21,231.33 113.86,231.71 114.48,231.34 115.07,231.37 115.60,231.13 116.39,231.32 117.10,232.39 117.74,232.84 118.34,232.80 118.92,231.89 119.50,230.63 119.72,230.12 119.92,229.69 120.12,229.33 120.32,228.72 120.50,227.95 120.69,227.76 120.87,227.32 121.06,226.74 121.24,226.22 121.43,225.28 121.62,224.94 121.82,224.15 122.02,223.89 122.24,222.94 122.46,222.53 122.70,221.59 122.91,221.15 123.14,220.21 123.37,219.25 123.62,218.58 123.87,217.70 124.12,217.20 124.39,216.16 124.65,215.60 124.92,215.03 125.18,214.69 125.45,213.77 125.71,213.53 125.96,213.00 126.21,212.63 126.45,212.26 126.68,211.48 126.90,211.29 127.11,210.92 127.30,210.77 127.43,210.52 127.56,210.98 127.68,211.25 127.79,211.21 127.90,211.55 128.01,212.33 128.11,212.40 128.20,212.96 128.30,213.59 128.39,214.64 128.48,215.34 128.56,215.95 128.64,216.82 128.73,217.33 128.81,218.46 128.88,219.18 128.96,220.04 129.04,220.79 129.12,221.60 129.20,222.28 129.28,222.94 129.36,223.83 129.44,224.40 129.52,225.24 129.61,225.84 129.70,226.28 130.10,227.80 130.50,228.76 130.90,229.38 131.29,229.58 131.66,229.58 132.00,229.66 132.56,228.66 133.04,228.03 133.60,228.02 133.88,228.48 134.16,228.97 134.45,229.36 134.77,229.76 135.11,230.32 135.48,230.81 135.90,231.55 136.06,231.77 136.23,232.16 136.41,232.44 136.60,233.36 136.80,233.78 137.00,234.68 137.21,235.65 137.42,236.66 137.63,237.66 137.84,238.17 138.06,239.32 138.27,240.27 138.48,241.19 138.69,241.85 138.89,242.72 139.09,243.02 139.28,243.53 139.46,244.12 139.64,244.15 139.80,244.00 139.99,243.66 140.17,243.78 140.35,243.23 140.51,242.47 140.67,241.94 140.83,241.44 140.98,240.76 141.12,239.81 141.26,239.39 141.40,238.29 141.53,237.47 141.66,236.99 141.80,235.88 141.93,235.41 142.06,234.46 142.20,234.00 142.30,233.35 142.40,232.86 142.49,232.55 142.59,231.68 142.68,230.99 142.78,230.38 142.87,229.49 142.96,228.70 143.05,228.05 143.14,227.24 143.23,226.44 143.32,226.08 143.41,224.89 143.50,224.58 143.58,223.97 143.67,223.22 143.76,222.29 143.85,222.00 143.94,221.30 144.02,221.18 144.11,220.91 144.20,220.44 144.36,220.11 144.53,220.44 144.69,220.50 144.85,221.10 145.01,221.83 145.17,222.84 145.33,223.47 145.49,224.30 145.65,225.60 145.80,226.55 145.95,227.28 146.10,227.80 146.26,228.72 146.38,229.68 146.48,230.61 146.58,231.28 146.68,232.38 146.80,233.17 146.95,233.91 147.14,234.47 147.39,234.44 147.70,234.87 148.12,234.36 148.61,234.13 149.16,233.31 149.75,232.82 150.37,232.45 151.03,232.51 151.71,232.81 152.40,232.26 153.10,231.76 153.70,231.51 154.35,231.82 155.04,231.88 155.76,231.82 156.48,231.30 157.20,230.58 157.90,230.56 158.56,231.22 159.18,231.71 159.73,232.53 160.20,233.37 160.43,233.78 160.64,233.93 160.83,234.42 161.00,234.83 161.15,235.41 161.28,236.29 161.40,237.08 161.51,237.80 161.60,238.31 161.69,239.04 161.78,240.21 161.86,240.74 161.94,241.36 162.02,242.14 162.10,242.73 162.19,243.12 162.28,243.29 162.39,243.97 162.50,243.85 162.68,243.87 162.85,243.98 163.02,243.89 163.19,243.63 163.37,242.97 163.54,242.69 163.71,241.92 163.89,241.01 164.06,240.52 164.24,239.59 164.42,238.68 164.61,237.56 164.80,236.31 164.90,236.05 164.99,235.51 165.09,234.67 165.19,234.16 165.29,233.46 165.39,232.41 165.50,231.91 165.60,231.11 165.70,230.23 165.80,229.04 165.91,228.41 166.01,227.76 166.12,227.00 166.22,226.34 166.33,225.59 166.44,224.68 166.54,224.44 166.65,223.67 166.76,223.32 166.86,222.52 166.97,222.51 167.08,221.95 167.18,221.78 167.29,221.56 167.39,221.49 167.50,221.17 167.67,221.10 167.83,221.50 168.00,221.78 168.16,222.46 168.31,223.20 168.47,223.64 168.63,224.24 168.79,224.93 168.96,225.86 169.13,226.65 169.30,227.05 169.49,227.99 169.67,228.31 169.87,228.73 170.08,229.51 170.30,229.59 170.86,230.38 171.50,231.00 172.18,231.57 172.88,231.94 173.55,231.86 174.17,231.70 174.70,231.70 175.29,231.88 175.75,231.99 176.15,231.65 176.55,231.15 177.00,229.89 177.14,229.43 177.29,228.69 177.43,228.09 177.59,227.24 177.74,226.15 177.90,225.63 178.05,224.58 178.21,223.75 178.37,222.81 178.53,221.94 178.68,221.26 178.84,220.22 178.99,219.58 179.14,218.84 179.29,218.73 179.43,218.36 179.57,218.16 179.70,218.30 179.93,218.01 180.14,218.34 180.34,219.07 180.53,219.73 180.72,220.32 180.90,220.96 181.09,222.06 181.29,223.29 181.49,224.18 181.70,225.24 181.77,225.60 181.85,226.15 181.93,226.61 182.01,227.17 182.09,227.81 182.17,228.33 182.25,228.75 182.33,229.33 182.42,230.25 182.50,230.93 182.59,231.69 182.67,232.04 182.76,233.08 182.85,233.82 182.93,234.15 183.02,234.99 183.10,235.87 183.19,236.34 183.27,237.39 183.35,237.79 183.43,238.66 183.51,239.10 183.59,239.67 183.67,240.23 183.75,240.90 183.82,241.49 183.89,241.67 183.97,242.28 184.03,242.42 184.10,242.83 184.27,243.08 184.42,243.04 184.56,242.75 184.69,242.19 184.82,241.79 184.94,240.78 185.06,239.65 185.19,238.99 185.32,237.82 185.45,236.49 185.60,235.91 185.70,235.23 185.80,234.46 185.91,233.74 186.02,233.16 186.13,232.03 186.24,231.30 186.35,230.44 186.46,229.45 186.58,228.62 186.69,228.04 186.81,227.26 186.92,226.52 187.04,225.99 187.15,225.38 187.27,225.32 187.38,224.72 187.50,224.96 187.65,224.99 187.78,225.26 187.92,226.02 188.05,226.77 188.18,227.40 188.31,228.56 188.44,229.41 188.59,230.74 188.74,231.49 188.91,232.39 189.09,233.10 189.28,233.61 189.50,234.03 190.03,234.05 190.63,233.64 191.28,232.89 191.97,232.02 192.68,231.83 193.40,231.99 193.96,231.46 194.57,230.93 195.20,230.39 195.84,229.74 196.47,230.02 197.07,230.11 197.62,229.92 198.10,229.89 198.43,230.06 198.72,229.98 198.97,230.39 199.19,231.08 199.40,231.79 199.60,232.28 199.80,232.98 200.01,233.21 200.24,233.82 200.50,234.14 200.81,234.57 201.14,234.20 201.48,234.10 201.83,233.20 202.18,232.73 202.54,232.12 202.90,231.26 203.25,230.51 203.60,229.97 203.94,230.40 204.27,230.40 204.60,231.55 204.93,232.34 205.27,233.26 205.61,234.04 205.96,234.52 206.32,234.96 206.70,235.08 207.09,234.67 207.47,233.95 207.85,233.52 208.25,232.58 208.66,232.31 209.09,232.01 209.56,232.07 210.06,232.24 210.60,231.96 211.14,231.12 211.73,230.41 212.36,229.63 213.02,229.65 213.70,229.66 214.38,229.64 215.05,229.48 215.70,229.29 216.32,228.83 216.90,229.14 217.49,229.72 218.05,230.38 218.59,230.98 219.10,231.12 219.60,230.99 220.10,231.01 220.59,230.88 221.09,231.10 221.60,231.50 222.26,232.70 222.91,233.18 223.55,233.35 224.20,233.20 224.86,233.19 225.54,233.64 226.25,233.58 226.69,233.67 227.15,233.04 227.63,232.47 228.12,231.32 228.62,230.38 229.12,229.41 229.60,228.83 230.08,228.60 230.53,228.76 230.96,228.90 231.35,228.80 231.70,228.64 232.02,228.61 232.29,229.11 232.51,229.50 232.70,229.70 232.87,230.63 233.03,231.39 233.19,232.04 233.37,232.84 233.57,233.34 233.81,233.45 234.10,234.09 234.44,233.86 234.81,233.81 235.21,233.83 235.63,232.90 236.06,232.24 236.51,231.43 236.96,230.35 237.42,229.65 237.87,229.57 238.32,229.48 238.75,229.82 239.26,230.31 239.75,230.74 240.23,230.95 240.71,230.95 241.20,231.02 241.71,230.92 242.24,231.41 242.80,231.96 243.40,232.84 243.86,232.99 244.25,232.93 244.60,232.94 244.95,232.53 245.32,232.17 245.75,232.06 246.28,231.88 246.94,232.08 247.75,232.46 248.76,232.12 250.00,231.09 250.40,230.67 250.84,231.16 251.31,231.32 251.82,232.01 252.35,232.22 252.91,232.26 253.49,232.05 254.10,231.50 254.73,231.35 255.38,231.73 256.05,231.69 256.73,231.74 257.42,231.45 258.13,231.03 258.84,231.12 259.56,231.37 260.29,232.25 261.02,232.24 261.75,231.90 262.48,231.27 263.20,230.66 263.92,231.05 264.64,231.73 265.34,231.47 266.03,231.30 266.71,231.14 267.37,231.02 268.02,231.75 268.65,231.78 269.25,231.96 269.84,231.44 270.39,230.91 270.92,230.37 271.42,230.14 271.89,230.71 272.32,230.76 272.72,231.33 273.08,231.59 273.40,231.87" fill="none" stroke="#f0675a" stroke-width="1.05" stroke-linejoin="round" stroke-dasharray="3.4,2" opacity="1"/>
</g>
<line x1="45.25" y1="212.6" x2="45.25" y2="263.5" stroke="#f24a28" stroke-width="1.6" stroke-dasharray="5.9,5.5"/>
<rect x="26.5" y="207.5" width="247.0" height="56.0" fill="none" stroke="#7c7c7c" stroke-width="1"/>
<line x1="80.94999999999999" y1="263.5" x2="80.94999999999999" y2="261.3" stroke="#7c7c7c" stroke-width="1"/>
<line x1="80.94999999999999" y1="207.5" x2="80.94999999999999" y2="209.7" stroke="#7c7c7c" stroke-width="1"/>
<line x1="135.5" y1="263.5" x2="135.5" y2="261.3" stroke="#7c7c7c" stroke-width="1"/>
<line x1="135.5" y1="207.5" x2="135.5" y2="209.7" stroke="#7c7c7c" stroke-width="1"/>
<line x1="190.05" y1="263.5" x2="190.05" y2="261.3" stroke="#7c7c7c" stroke-width="1"/>
<line x1="190.05" y1="207.5" x2="190.05" y2="209.7" stroke="#7c7c7c" stroke-width="1"/>
<line x1="244.6" y1="263.5" x2="244.6" y2="261.3" stroke="#7c7c7c" stroke-width="1"/>
<line x1="244.6" y1="207.5" x2="244.6" y2="209.7" stroke="#7c7c7c" stroke-width="1"/>
<line x1="26.5" y1="213.3" x2="28.7" y2="213.3" stroke="#7c7c7c" stroke-width="1"/>
<line x1="273.5" y1="213.3" x2="271.3" y2="213.3" stroke="#7c7c7c" stroke-width="1"/>
<line x1="26.5" y1="232.5" x2="28.7" y2="232.5" stroke="#7c7c7c" stroke-width="1"/>
<line x1="273.5" y1="232.5" x2="271.3" y2="232.5" stroke="#7c7c7c" stroke-width="1"/>
<line x1="26.5" y1="251.7" x2="28.7" y2="251.7" stroke="#7c7c7c" stroke-width="1"/>
<line x1="273.5" y1="251.7" x2="271.3" y2="251.7" stroke="#7c7c7c" stroke-width="1"/>
<text x="26.4" y="271.3" font-family="Liberation Serif, DejaVu Serif, serif" font-size="6.5" fill="#444" text-anchor="middle">0</text>
<text x="80.94999999999999" y="271.3" font-family="Liberation Serif, DejaVu Serif, serif" font-size="6.5" fill="#444" text-anchor="middle">10</text>
<text x="135.5" y="271.3" font-family="Liberation Serif, DejaVu Serif, serif" font-size="6.5" fill="#444" text-anchor="middle">20</text>
<text x="190.05" y="271.3" font-family="Liberation Serif, DejaVu Serif, serif" font-size="6.5" fill="#444" text-anchor="middle">30</text>
<text x="244.6" y="271.3" font-family="Liberation Serif, DejaVu Serif, serif" font-size="6.5" fill="#444" text-anchor="middle">40</text>
<text x="24.8" y="215.0" font-family="Liberation Serif, DejaVu Serif, serif" font-size="6.5" fill="#444" text-anchor="end">20</text>
<text x="24.8" y="234.2" font-family="Liberation Serif, DejaVu Serif, serif" font-size="6.5" fill="#444" text-anchor="end">0</text>
<text x="24.8" y="253.39999999999998" font-family="Liberation Serif, DejaVu Serif, serif" font-size="6.5" fill="#444" text-anchor="end">−20</text>
<text transform="translate(11.4,235.5) rotate(-90)" font-family="Liberation Sans, Arial, sans-serif" font-size="9.0" fill="#2a2a2a" text-anchor="middle"><tspan font-family="Liberation Serif, DejaVu Serif, serif" font-style="italic">θ</tspan> (deg)</text>
<defs><clipPath id="c2"><rect x="26.5" y="276.5" width="247" height="57.0"/></clipPath></defs>
<rect x="50.6" y="276.5" width="222.9" height="57.0" fill="#e5e5e5"/>
<line x1="80.94999999999999" y1="276.5" x2="80.94999999999999" y2="333.5" stroke="#cfcfcf" stroke-width="0.8"/>
<line x1="135.5" y1="276.5" x2="135.5" y2="333.5" stroke="#cfcfcf" stroke-width="0.8"/>
<line x1="190.05" y1="276.5" x2="190.05" y2="333.5" stroke="#cfcfcf" stroke-width="0.8"/>
<line x1="244.6" y1="276.5" x2="244.6" y2="333.5" stroke="#cfcfcf" stroke-width="0.8"/>
<line x1="26.5" y1="284.2" x2="50.6" y2="284.2" stroke="#e2e2e2" stroke-width="0.8"/>
<line x1="50.6" y1="284.2" x2="273.5" y2="284.2" stroke="#cfcfcf" stroke-width="0.8"/>
<line x1="26.5" y1="296.25" x2="50.6" y2="296.25" stroke="#e2e2e2" stroke-width="0.8"/>
<line x1="50.6" y1="296.25" x2="273.5" y2="296.25" stroke="#cfcfcf" stroke-width="0.8"/>
<line x1="26.5" y1="308.2" x2="50.6" y2="308.2" stroke="#e2e2e2" stroke-width="0.8"/>
<line x1="50.6" y1="308.2" x2="273.5" y2="308.2" stroke="#cfcfcf" stroke-width="0.8"/>
<line x1="26.5" y1="320.2" x2="50.6" y2="320.2" stroke="#e2e2e2" stroke-width="0.8"/>
<line x1="50.6" y1="320.2" x2="273.5" y2="320.2" stroke="#cfcfcf" stroke-width="0.8"/>
<line x1="26.5" y1="332.1" x2="50.6" y2="332.1" stroke="#e2e2e2" stroke-width="0.8"/>
<line x1="50.6" y1="332.1" x2="273.5" y2="332.1" stroke="#cfcfcf" stroke-width="0.8"/>
<g clip-path="url(#c2)">
<polyline points="26.40,320.43 26.71,320.32 27.05,320.29 27.41,320.35 27.80,320.33 28.21,320.42 28.64,320.39 29.09,320.36 29.56,320.34 30.05,320.35 30.56,320.23 31.08,320.28 31.63,320.21 32.19,320.35 32.76,320.16 33.35,320.30 33.96,320.13 34.58,320.24 35.21,320.16 35.86,320.15 36.52,320.22 37.18,320.04 37.86,320.03 38.55,320.19 39.24,320.09 39.95,319.99 40.66,320.15 41.38,320.12 42.10,319.94 42.83,319.98 43.56,319.91 44.30,319.92 45.04,319.97 45.78,319.86 46.53,319.95 47.27,319.80 48.02,319.81 48.76,319.92 49.51,319.82 50.25,319.81 50.98,319.83 51.72,319.79 52.45,319.75 53.18,319.67 53.90,319.79 54.61,319.83 55.32,319.81 56.02,319.74 56.71,319.66 57.39,319.65 58.06,319.71 58.72,319.69 59.37,319.57 60.01,319.70 60.64,319.68 61.25,319.56 61.85,319.50 62.43,319.43 63.00,319.46 63.55,319.77 64.08,319.75 64.60,319.73 65.09,319.57 65.57,319.52 66.03,319.48 66.47,319.59 66.89,319.51 67.28,319.64 67.65,319.57 68.00,319.65 70.21,319.65 71.26,320.03 71.51,320.25 71.30,320.59 70.98,320.74 70.89,321.06 71.38,321.20 72.80,321.02 73.17,321.04 73.56,321.18 73.98,321.17 74.42,321.36 74.88,321.25 75.36,321.39 75.86,321.22 76.38,321.15 76.92,321.29 77.48,321.41 78.05,321.30 78.63,321.31 79.24,321.27 79.85,321.04 80.47,321.01 81.11,321.09 81.76,321.25 82.41,321.38 83.08,321.34 83.75,321.24 84.42,321.15 85.11,321.12 85.79,321.17 86.48,321.13 87.18,321.04 87.87,321.07 88.56,321.16 89.26,321.30 89.95,321.16 90.64,321.01 91.32,320.86 92.00,321.07 92.68,321.14 93.35,320.96 94.01,320.89 94.66,320.98 95.31,320.95 95.94,321.18 96.56,321.08 97.17,320.96 97.77,320.79 98.35,320.63 98.92,320.72 99.47,320.84 100.00,321.01 100.71,320.96 101.43,320.73 102.14,320.85 102.85,320.82 103.55,320.80 104.25,320.72 104.95,320.68 105.65,320.59 106.33,320.76 107.02,320.96 107.69,320.93 108.36,320.72 109.03,320.52 109.68,320.57 110.33,320.70 110.97,320.69 111.59,320.56 112.21,320.43 112.82,320.44 113.42,320.62 114.01,320.68 114.59,320.55 115.15,320.54 115.70,320.40 116.24,320.28 116.76,320.32 117.27,320.41 117.77,320.41 118.24,320.47 118.71,320.32 119.16,320.18 119.59,320.16 120.00,320.13 121.11,320.29 122.04,320.04 122.82,319.68 123.46,319.49 124.01,319.32 124.48,319.37 124.90,319.36 125.31,319.22 125.73,319.07 126.18,318.95 126.70,318.82 127.36,318.92 128.00,319.00 128.61,319.24 129.20,319.47 129.80,319.69 130.39,319.89 131.00,320.16 131.64,320.56 132.30,320.67 132.88,320.60 133.50,320.56 134.14,320.43 134.80,320.39 135.46,320.60 136.12,320.58 136.77,320.50 137.39,320.44 137.97,320.57 138.51,320.49 139.00,320.69 139.74,320.88 140.34,321.04 140.84,321.30 141.30,321.52 141.77,321.92 142.30,322.06 142.72,322.13 142.95,321.85 143.19,321.65 143.65,321.34 144.52,320.92 146.00,320.57 146.38,320.60 146.79,320.65 147.23,320.55 147.69,320.30 148.19,320.25 148.71,320.26 149.25,320.26 149.82,320.42 150.41,320.45 151.01,320.39 151.63,320.11 152.26,319.99 152.91,319.92 153.57,320.06 154.23,319.98 154.91,319.91 155.58,319.79 156.27,319.81 156.95,319.88 157.63,319.90 158.31,319.80 158.99,319.54 159.66,319.43 160.32,319.69 160.98,319.72 161.62,319.86 162.25,319.69 162.86,319.56 163.46,319.66 164.04,319.73 164.60,319.65 165.27,319.54 165.94,319.51 166.59,319.52 167.24,319.61 167.88,319.85 168.51,319.89 169.13,319.89 169.75,319.71 170.36,319.71 170.97,319.80 171.58,319.93 172.18,320.01 172.77,320.08 173.37,319.94 173.96,320.02 174.56,320.20 175.15,320.51 175.75,320.47 176.35,320.29 176.95,320.33 177.55,320.30 178.15,320.40 178.76,320.47 179.38,320.63 180.00,320.51 180.61,320.41 181.24,320.57 181.88,320.67 182.54,320.63 183.21,320.71 183.89,320.40 184.58,320.41 185.27,320.49 185.96,320.74 186.65,320.82 187.34,320.84 188.03,320.65 188.71,320.62 189.37,320.71 190.03,320.76 190.67,320.79 191.30,320.63 191.91,320.50 192.49,320.70 193.05,320.76 193.59,320.72 194.10,320.60 194.58,320.41 195.02,320.21 195.43,319.98 195.80,319.87 196.47,319.59 196.99,319.28 197.36,318.76 197.62,318.20 197.79,317.61 197.89,317.01 197.94,316.25 197.97,315.69 197.99,314.90 198.04,314.27 198.14,313.53 198.30,312.88 198.46,312.25 198.62,311.59 198.77,310.96 198.93,310.35 199.08,309.72 199.23,309.09 199.38,308.29 199.53,307.64 199.69,307.03 199.84,306.43 200.01,305.85 200.17,305.31 200.34,304.86 200.52,304.38 200.70,304.08 201.20,303.18 201.74,302.50 202.30,301.95 202.86,301.63 203.40,301.61 203.90,301.47 204.54,301.49 205.09,301.64 205.66,301.93 206.30,302.98 206.45,303.46 206.61,303.81 206.77,304.30 206.94,304.76 207.11,305.29 207.28,305.84 207.45,306.55 207.63,307.24 207.81,307.88 207.99,308.48 208.17,309.16 208.35,309.70 208.53,310.33 208.72,311.11 208.90,311.69 209.08,312.35 209.25,312.86 209.43,313.55 209.60,314.24 209.75,314.85 209.90,315.46 210.05,316.06 210.20,316.62 210.35,317.28 210.50,318.04 210.65,318.74 210.80,319.32 210.96,319.94 211.11,320.70 211.26,321.35 211.41,321.96 211.55,322.57 211.70,323.21 211.84,323.85 211.99,324.32 212.13,324.94 212.27,325.54 212.41,326.00 212.54,326.37 212.67,326.84 212.80,327.19 213.05,328.13 213.28,328.91 213.51,329.60 213.73,330.44 213.94,331.17 214.15,331.82 214.35,332.36 214.56,332.82 214.77,333.20 214.98,333.56 215.20,333.51 215.42,333.45 215.65,333.16 215.88,332.66 216.11,332.13 216.34,331.43 216.56,330.73 216.79,329.99 217.02,329.25 217.25,328.66 217.48,327.87 217.70,327.31 217.92,326.82 218.13,326.18 218.34,325.59 218.55,324.97 218.75,324.20 218.96,323.65 219.17,322.88 219.39,322.28 219.62,321.79 219.85,321.28 220.10,320.75 220.49,320.01 220.81,319.63 221.14,319.35 221.60,319.39 222.29,319.30 223.30,319.20 223.73,319.22 224.23,319.21 224.77,319.28 225.36,319.39 225.98,319.58 226.64,319.47 227.32,319.52 228.02,319.52 228.73,319.82 229.45,320.06 230.17,320.21 230.87,320.15 231.57,320.05 232.24,320.25 232.89,320.45 233.50,320.46 234.07,320.47 234.60,320.43 235.29,320.48 235.75,320.47 236.07,320.46 236.31,320.36 236.53,320.44 236.80,320.31 237.19,320.06 237.77,319.91 238.60,319.63 239.75,319.57 241.30,319.71 241.68,319.57 242.09,319.51 242.53,319.51 242.99,319.60 243.47,319.58 243.99,319.59 244.52,319.51 245.07,319.41 245.65,319.30 246.24,319.35 246.85,319.65 247.48,319.70 248.13,319.70 248.79,319.59 249.46,319.57 250.14,319.44 250.84,319.54 251.54,319.65 252.26,319.56 252.98,319.53 253.71,319.59 254.44,319.73 255.18,319.68 255.91,319.63 256.66,319.48 257.40,319.50 258.14,319.69 258.88,319.61 259.62,319.59 260.35,319.65 261.07,319.61 261.80,319.79 262.51,319.61 263.21,319.57 263.91,319.51 264.59,319.60 265.26,319.73 265.92,319.71 266.56,319.72 267.19,319.59 267.80,319.59 268.40,319.60 268.97,319.82 269.52,319.71 270.06,319.62 270.56,319.61 271.05,319.62 271.51,319.64 271.95,319.76 272.35,319.92 272.73,319.87 273.08,319.96 273.40,319.73" fill="none" stroke="#93c793" stroke-width="1.0" stroke-linejoin="round" opacity="1"/>
<polyline points="26.40,320.43 26.71,320.32 27.05,320.29 27.41,320.35 27.80,320.33 28.21,320.42 28.64,320.39 29.09,320.36 29.56,320.34 30.05,320.35 30.56,320.23 31.08,320.28 31.63,320.21 32.19,320.35 32.76,320.16 33.35,320.30 33.96,320.13 34.58,320.24 35.21,320.16 35.86,320.15 36.52,320.22 37.18,320.04 37.86,320.03 38.55,320.19 39.24,320.09 39.95,319.99 40.66,320.15 41.38,320.12 42.10,319.94 42.83,319.98 43.56,319.91 44.30,319.92 45.04,319.97 45.78,319.86 46.53,319.95 47.27,319.80 48.02,319.81 48.76,319.92 49.51,319.82 50.25,319.81 50.98,319.83 51.72,319.79 52.45,319.75 53.18,319.67 53.90,319.79 54.61,319.83 55.32,319.81 56.02,319.74 56.71,319.66 57.39,319.65 58.06,319.71 58.72,319.69 59.37,319.57 60.01,319.70 60.64,319.68 61.25,319.56 61.85,319.50 62.43,319.43 63.00,319.46 63.55,319.77 64.08,319.75 64.60,319.73 65.09,319.57 65.57,319.52 66.03,319.48 66.47,319.59 66.89,319.51 67.28,319.64 67.65,319.57 68.00,319.65 70.21,319.65 71.26,320.03 71.51,320.25 71.30,320.59 70.98,320.74 70.89,321.06 71.38,321.20 72.80,321.02 73.17,321.04 73.56,321.18 73.98,321.17 74.42,321.36 74.88,321.25 75.36,321.39 75.86,321.22 76.38,321.15 76.92,321.29 77.48,321.41 78.05,321.30 78.63,321.31 79.24,321.27 79.85,321.04 80.47,321.01 81.11,321.09 81.76,321.25 82.41,321.38 83.08,321.34 83.75,321.24 84.42,321.15 85.11,321.12 85.79,321.17 86.48,321.13 87.18,321.04 87.87,321.07 88.56,321.16 89.26,321.30 89.95,321.16 90.64,321.01 91.32,320.86 92.00,321.07 92.68,321.14 93.35,320.96 94.01,320.89 94.66,320.98 95.31,320.95 95.94,321.18 96.56,321.08 97.17,320.96 97.77,320.79 98.35,320.63 98.92,320.72 99.47,320.84 100.00,321.01 100.71,320.96 101.43,320.73 102.14,320.85 102.85,320.82 103.55,320.80 104.25,320.72 104.95,320.68 105.65,320.59 106.33,320.76 107.02,320.96 107.69,320.93 108.36,320.72 109.03,320.52 109.68,320.57 110.33,320.70 110.97,320.69 111.59,320.56 112.21,320.43 112.82,320.44 113.42,320.62 114.01,320.68 114.59,320.55 115.15,320.54 115.70,320.40 116.24,320.28 116.76,320.32 117.27,320.41 117.77,320.41 118.24,320.47 118.71,320.32 119.16,320.18 119.59,320.16 120.00,320.13 121.11,320.29 122.04,320.04 122.82,319.68 123.46,319.49 124.01,319.32 124.48,319.37 124.90,319.36 125.31,319.22 125.73,319.07 126.18,318.95 126.70,318.82 127.36,318.92 128.00,319.00 128.61,319.24 129.20,319.47 129.80,319.69 130.39,319.89 131.00,320.16 131.64,320.56 132.30,320.67 132.88,320.60 133.50,320.56 134.14,320.43 134.80,320.39 135.46,320.60 136.12,320.58 136.77,320.50 137.39,320.44 137.97,320.57 138.51,320.49 139.00,320.69 139.74,320.88 140.34,321.04 140.84,321.30 141.30,321.52 141.77,321.92 142.30,322.06 142.72,322.13 142.95,321.85 143.19,321.65 143.65,321.34 144.52,320.92 146.00,320.57 146.38,320.60 146.79,320.65 147.23,320.55 147.69,320.30 148.19,320.25 148.71,320.26 149.25,320.26 149.82,320.42 150.41,320.45 151.01,320.39 151.63,320.11 152.26,319.99 152.91,319.92 153.57,320.06 154.23,319.98 154.91,319.91 155.58,319.79 156.27,319.81 156.95,319.88 157.63,319.90 158.31,319.80 158.99,319.54 159.66,319.43 160.32,319.69 160.98,319.72 161.62,319.86 162.25,319.69 162.86,319.56 163.46,319.66 164.04,319.73 164.60,319.65 165.27,319.54 165.94,319.51 166.59,319.52 167.24,319.61 167.88,319.85 168.51,319.89 169.13,319.89 169.75,319.71 170.36,319.71 170.97,319.80 171.58,319.93 172.18,320.01 172.77,320.08 173.37,319.94 173.96,320.02 174.56,320.20 175.15,320.51 175.75,320.47 176.35,320.29 176.95,320.33 177.55,320.30 178.15,320.40 178.76,320.47 179.38,320.63 180.00,320.51 180.61,320.41 181.24,320.57 181.88,320.67 182.54,320.63 183.21,320.71 183.89,320.40 184.58,320.41 185.27,320.49 185.96,320.74 186.65,320.82 187.34,320.84 188.03,320.65 188.71,320.62 189.37,320.71 190.03,320.76 190.67,320.79 191.30,320.63 191.91,320.50 192.49,320.70 193.05,320.76 193.59,320.72 194.10,320.60 194.58,320.41 195.02,320.21 195.43,319.98 195.80,319.87 196.47,319.59 196.99,319.28 197.36,318.76 197.62,318.20 197.79,317.61 197.89,317.01 197.94,316.25 197.97,315.69 197.99,314.90 198.04,314.27 198.14,313.53 198.30,312.88 198.46,312.25 198.62,311.59 198.77,310.96 198.93,310.35 199.08,309.72 199.23,309.09 199.38,308.29 199.53,307.64 199.69,307.03 199.84,306.43 200.01,305.85 200.17,305.31 200.34,304.86 200.52,304.38 200.70,304.08 201.20,303.18 201.74,302.50 202.30,301.95 202.86,301.63 203.40,301.61 203.90,301.47 204.54,301.49 205.09,301.64 205.66,301.93 206.30,302.98 206.45,303.46 206.61,303.81 206.77,304.30 206.94,304.76 207.11,305.29 207.28,305.84 207.45,306.55 207.63,307.24 207.81,307.88 207.99,308.48 208.17,309.16 208.35,309.70 208.53,310.33 208.72,311.11 208.90,311.69 209.08,312.35 209.25,312.86 209.43,313.55 209.60,314.24 209.75,314.85 209.90,315.46 210.05,316.06 210.20,316.62 210.35,317.28 210.50,318.04 210.65,318.74 210.80,319.32 210.96,319.94 211.11,320.70 211.26,321.35 211.41,321.96 211.55,322.57 211.70,323.21 211.84,323.85 211.99,324.32 212.13,324.94 212.27,325.54 212.41,326.00 212.54,326.37 212.67,326.84 212.80,327.19 213.05,328.13 213.28,328.91 213.51,329.60 213.73,330.44 213.94,331.17 214.15,331.82 214.35,332.36 214.56,332.82 214.77,333.20 214.98,333.56 215.20,333.51 215.42,333.45 215.65,333.16 215.88,332.66 216.11,332.13 216.34,331.43 216.56,330.73 216.79,329.99 217.02,329.25 217.25,328.66 217.48,327.87 217.70,327.31 217.92,326.82 218.13,326.18 218.34,325.59 218.55,324.97 218.75,324.20 218.96,323.65 219.17,322.88 219.39,322.28 219.62,321.79 219.85,321.28 220.10,320.75 220.49,320.01 220.81,319.63 221.14,319.35 221.60,319.39 222.29,319.30 223.30,319.20 223.73,319.22 224.23,319.21 224.77,319.28 225.36,319.39 225.98,319.58 226.64,319.47 227.32,319.52 228.02,319.52 228.73,319.82 229.45,320.06 230.17,320.21 230.87,320.15 231.57,320.05 232.24,320.25 232.89,320.45 233.50,320.46 234.07,320.47 234.60,320.43 235.29,320.48 235.75,320.47 236.07,320.46 236.31,320.36 236.53,320.44 236.80,320.31 237.19,320.06 237.77,319.91 238.60,319.63 239.75,319.57 241.30,319.71 241.68,319.57 242.09,319.51 242.53,319.51 242.99,319.60 243.47,319.58 243.99,319.59 244.52,319.51 245.07,319.41 245.65,319.30 246.24,319.35 246.85,319.65 247.48,319.70 248.13,319.70 248.79,319.59 249.46,319.57 250.14,319.44 250.84,319.54 251.54,319.65 252.26,319.56 252.98,319.53 253.71,319.59 254.44,319.73 255.18,319.68 255.91,319.63 256.66,319.48 257.40,319.50 258.14,319.69 258.88,319.61 259.62,319.59 260.35,319.65 261.07,319.61 261.80,319.79 262.51,319.61 263.21,319.57 263.91,319.51 264.59,319.60 265.26,319.73 265.92,319.71 266.56,319.72 267.19,319.59 267.80,319.59 268.40,319.60 268.97,319.82 269.52,319.71 270.06,319.62 270.56,319.61 271.05,319.62 271.51,319.64 271.95,319.76 272.35,319.92 272.73,319.87 273.08,319.96 273.40,319.73" fill="none" stroke="#333333" stroke-width="1.0" stroke-linejoin="round" stroke-dasharray="3,1.1" opacity="1"/>
<polyline points="26.40,319.76 26.73,320.27 27.12,319.88 27.55,319.87 28.02,320.17 28.54,320.05 29.10,320.36 29.68,320.07 30.30,320.47 30.95,320.19 31.62,320.38 32.32,320.59 33.03,320.51 33.75,320.68 34.48,320.61 35.23,320.33 35.97,320.79 36.72,320.69 37.47,320.59 38.21,320.57 38.93,320.93 39.65,320.83 40.35,321.04 41.04,320.98 41.70,321.10 42.33,320.91 42.93,320.99 43.51,320.95 44.04,320.77 44.54,321.12 44.99,320.78 45.40,320.99 46.66,320.94 47.52,320.58 48.10,320.06 48.48,320.09 48.78,319.66 49.10,319.04 49.54,318.58 50.20,318.42 50.64,317.94 51.11,318.14 51.61,317.66 52.12,317.39 52.66,317.05 53.20,316.88 53.76,316.71 54.33,316.10 54.90,315.84 55.48,315.65 56.05,315.23 56.63,315.12 57.19,314.85 57.75,314.57 58.30,314.49 58.93,314.21 59.56,313.80 60.20,314.32 60.85,313.52 61.49,313.05 62.14,312.80 62.78,313.21 63.41,313.57 64.03,313.60 64.65,313.48 65.25,312.98 65.83,312.98 66.40,312.37 67.12,312.57 67.81,312.68 68.49,312.77 69.15,312.64 69.80,312.36 70.43,312.26 71.04,312.76 71.64,313.27 72.23,313.47 72.80,313.20 73.43,313.01 73.94,312.14 74.40,311.84 74.84,311.70 75.34,311.59 75.95,311.42 76.71,311.75 77.70,311.33 78.14,311.14 78.61,311.01 79.10,311.17 79.62,311.17 80.16,311.22 80.73,311.43 81.31,311.23 81.92,310.69 82.54,310.49 83.17,310.34 83.82,310.44 84.48,311.03 85.14,310.87 85.82,311.06 86.50,310.78 87.18,310.31 87.87,310.17 88.56,310.59 89.24,310.54 89.92,310.27 90.60,309.79 91.17,310.04 91.75,309.76 92.33,309.92 92.93,310.31 93.53,310.48 94.13,310.60 94.74,309.81 95.36,309.39 95.98,309.07 96.60,309.34 97.23,309.42 97.85,309.59 98.48,309.66 99.12,309.48 99.75,309.26 100.38,308.94 101.01,309.34 101.65,309.73 102.28,309.17 102.91,308.82 103.53,308.48 104.15,308.19 104.77,308.49 105.39,308.82 106.00,309.00 106.62,308.94 107.25,308.70 107.89,308.41 108.55,308.17 109.21,308.58 109.89,308.48 110.56,308.78 111.24,308.33 111.92,307.67 112.60,307.81 113.27,308.16 113.93,308.32 114.59,308.78 115.24,308.40 115.87,308.37 116.49,307.63 117.09,307.83 117.67,308.14 118.23,308.29 118.76,308.12 119.27,308.24 119.75,307.92 120.20,307.90 120.62,308.12 121.00,308.18 122.16,308.67 122.76,309.59 123.03,310.33 123.21,310.63 123.52,311.21 124.20,310.88 124.63,310.35 125.11,309.94 125.64,310.04 126.20,309.91 126.80,309.81 127.41,309.71 128.04,309.22 128.68,308.98 129.32,308.35 129.96,308.22 130.58,308.18 131.18,308.08 131.76,307.32 132.30,306.94 133.04,306.60 133.78,306.42 134.51,306.60 135.24,307.18 135.94,307.05 136.61,306.76 137.24,306.32 137.82,306.23 138.34,306.09 138.80,306.21 139.38,306.14 139.77,305.10 140.03,304.53 140.22,303.97 140.43,303.29 140.70,303.01 140.97,303.24 141.23,303.28 141.49,304.35 141.76,304.97 142.06,305.83 142.40,306.64 142.80,306.99 143.29,307.61 143.78,308.07 144.33,308.32 144.97,308.23 145.78,307.70 146.80,307.43 147.25,307.75 147.76,308.05 148.30,307.98 148.88,308.21 149.49,307.94 150.13,307.64 150.78,307.75 151.44,307.90 152.12,307.93 152.79,307.54 153.45,307.03 154.11,306.59 154.75,306.41 155.36,307.11 155.95,307.18 156.50,307.30 157.20,307.45 157.90,307.08 158.58,307.04 159.24,307.05 159.89,307.25 160.53,307.64 161.14,307.64 161.72,307.44 162.28,307.48 162.82,307.18 163.33,307.43 163.80,307.81 164.44,308.01 164.98,307.48 165.46,306.73 165.89,306.41 166.29,305.39 166.67,304.53 167.07,303.98 167.50,303.82 168.05,304.06 168.55,304.47 169.04,305.00 169.57,305.97 170.21,306.15 171.00,305.92 171.52,306.25 172.09,306.71 172.72,306.91 173.38,306.80 174.07,306.67 174.77,306.23 175.48,306.26 176.17,306.32 176.85,306.79 177.50,307.34 178.10,307.27 178.67,307.66 179.24,307.84 179.80,308.09 180.34,308.47 180.88,309.08 181.39,309.54 181.90,309.98 182.38,310.21 182.84,310.39 183.28,310.50 183.70,310.14 184.11,310.14 184.44,310.01 184.74,309.69 185.00,308.96 185.25,308.91 185.51,308.19 185.80,307.49 186.13,306.87 186.52,306.49 187.00,305.97 187.47,305.16 188.00,304.80 188.58,304.77 189.20,304.75 189.84,305.11 190.50,305.45 191.17,305.12 191.83,305.07 192.47,304.81 193.09,305.32 193.67,305.46 194.20,305.11 194.69,304.87 195.16,304.33 195.61,303.53 196.04,302.81 196.45,301.98 196.85,301.63 197.24,301.13 197.62,301.03 197.99,300.50 198.36,300.46 198.73,299.84 199.10,299.18 199.50,298.62 199.89,297.72 200.28,297.24 200.65,296.17 201.02,295.82 201.39,295.14 201.74,294.93 202.09,294.23 202.43,294.18 202.77,293.92 203.10,293.47 203.49,293.30 203.85,293.46 204.19,293.84 204.53,294.08 204.86,294.57 205.20,295.56 205.54,296.65 205.91,297.30 206.30,298.64 206.61,299.10 206.94,299.59 207.28,300.15 207.62,300.79 207.97,301.28 208.33,301.52 208.69,301.88 209.04,302.54 209.40,302.92 209.74,303.56 210.08,304.13 210.40,304.77 210.95,305.49 211.50,305.92 212.04,306.27 212.56,306.85 213.06,306.64 213.50,306.82 213.90,306.79 214.10,307.04 214.29,306.67 214.45,306.53 214.60,305.95 214.74,305.30 214.87,304.77 214.99,304.29 215.10,303.35 215.20,302.93 215.30,302.00 215.40,301.08 215.50,300.50 215.57,300.05 215.64,299.28 215.70,299.08 215.76,298.51 215.82,297.70 215.87,297.29 215.92,296.55 215.97,295.84 216.01,295.00 216.06,294.73 216.10,294.04 216.14,293.11 216.18,292.37 216.22,291.49 216.26,291.01 216.30,290.37 216.33,289.57 216.35,288.89 216.38,288.37 216.40,287.74 216.43,286.67 216.45,285.95 216.47,285.32 216.50,284.21 216.52,283.78 216.54,282.71 216.56,282.17 216.58,281.19 216.60,280.29 216.62,279.49 216.64,278.86 216.66,278.30 216.68,277.97 216.70,277.48 216.72,276.96 216.74,276.44 216.76,276.35 216.78,276.21 216.80,275.96 216.82,275.86 216.84,276.21 216.87,276.34 216.89,276.67 216.91,277.21 216.93,277.56 216.95,278.54 216.97,278.87 217.00,279.86 217.02,280.51 217.04,280.90 217.06,282.12 217.08,282.87 217.10,283.53 217.13,284.51 217.15,285.09 217.17,285.63 217.19,286.43 217.21,287.21 217.23,288.14 217.26,288.72 217.28,288.90 217.30,289.48 217.35,290.32 217.40,291.32 217.45,292.28 217.50,293.14 217.55,293.74 217.60,294.61 217.65,294.90 217.70,295.56 217.75,295.51 217.80,295.45 217.83,295.43 217.87,294.88 217.90,294.36 217.93,293.70 217.96,293.11 218.00,292.33 218.03,291.80 218.06,290.80 218.09,290.17 218.13,289.18 218.16,288.35 218.19,287.81 218.23,287.30 218.26,287.12 218.30,286.47 218.49,286.20 218.70,287.13 218.90,288.81 218.95,289.62 218.99,290.12 219.03,290.35 219.08,290.89 219.12,291.78 219.17,292.52 219.21,292.99 219.25,293.86 219.30,294.75 219.35,295.06 219.40,296.09 219.45,296.70 219.50,297.34 219.57,297.90 219.64,298.60 219.71,299.33 219.78,299.82 219.85,300.65 219.93,301.13 220.01,301.74 220.10,302.12 220.19,302.63 220.30,302.96 220.30,304.12 220.36,304.36 221.70,304.39 222.07,304.44 222.49,304.46 222.95,304.60 223.46,304.96 224.00,304.90 224.59,304.58 225.20,304.05 225.83,303.84 226.49,303.70 227.17,304.26 227.86,304.85 228.56,304.61 229.26,304.12 229.97,303.94 230.67,304.09 231.37,303.88 232.06,303.98 232.72,304.00 233.37,303.86 234.00,303.42 234.60,303.44 235.22,304.06 235.80,304.09 236.34,304.37 236.85,304.43 237.35,304.28 237.83,303.96 238.30,303.44 238.78,303.33 239.26,303.48 239.76,303.59 240.28,303.89 240.84,304.23 241.43,304.24 242.07,303.69 242.76,303.55 243.51,304.16 244.33,304.61 245.22,304.39 246.20,303.52 246.65,303.46 247.12,303.42 247.62,303.59 248.14,303.79 248.69,304.36 249.26,304.38 249.84,303.98 250.45,303.80 251.08,303.44 251.72,303.62 252.37,304.03 253.04,303.95 253.73,303.77 254.42,303.51 255.12,302.94 255.83,303.26 256.54,303.80 257.26,304.16 257.99,304.15 258.71,303.82 259.44,303.36 260.16,303.21 260.89,303.52 261.61,303.61 262.32,303.71 263.03,303.26 263.73,303.20 264.42,303.36 265.10,303.72 265.77,304.01 266.43,303.55 267.07,303.33 267.69,302.88 268.30,302.94 268.88,303.06 269.45,303.32 270.00,303.43 270.52,303.26 271.02,303.43 271.49,303.28 271.93,303.15 272.34,303.15 272.73,302.87 273.08,303.31 273.40,303.21" fill="none" stroke="#f0675a" stroke-width="1.05" stroke-linejoin="round" stroke-dasharray="3.4,2" opacity="1"/>
</g>
<line x1="45.25" y1="281.6" x2="45.25" y2="333.5" stroke="#f24a28" stroke-width="1.6" stroke-dasharray="5.9,5.5"/>
<rect x="26.5" y="276.5" width="247.0" height="57.0" fill="none" stroke="#7c7c7c" stroke-width="1"/>
<line x1="80.94999999999999" y1="333.5" x2="80.94999999999999" y2="331.3" stroke="#7c7c7c" stroke-width="1"/>
<line x1="80.94999999999999" y1="276.5" x2="80.94999999999999" y2="278.7" stroke="#7c7c7c" stroke-width="1"/>
<line x1="135.5" y1="333.5" x2="135.5" y2="331.3" stroke="#7c7c7c" stroke-width="1"/>
<line x1="135.5" y1="276.5" x2="135.5" y2="278.7" stroke="#7c7c7c" stroke-width="1"/>
<line x1="190.05" y1="333.5" x2="190.05" y2="331.3" stroke="#7c7c7c" stroke-width="1"/>
<line x1="190.05" y1="276.5" x2="190.05" y2="278.7" stroke="#7c7c7c" stroke-width="1"/>
<line x1="244.6" y1="333.5" x2="244.6" y2="331.3" stroke="#7c7c7c" stroke-width="1"/>
<line x1="244.6" y1="276.5" x2="244.6" y2="278.7" stroke="#7c7c7c" stroke-width="1"/>
<line x1="26.5" y1="284.2" x2="28.7" y2="284.2" stroke="#7c7c7c" stroke-width="1"/>
<line x1="273.5" y1="284.2" x2="271.3" y2="284.2" stroke="#7c7c7c" stroke-width="1"/>
<line x1="26.5" y1="296.25" x2="28.7" y2="296.25" stroke="#7c7c7c" stroke-width="1"/>
<line x1="273.5" y1="296.25" x2="271.3" y2="296.25" stroke="#7c7c7c" stroke-width="1"/>
<line x1="26.5" y1="308.2" x2="28.7" y2="308.2" stroke="#7c7c7c" stroke-width="1"/>
<line x1="273.5" y1="308.2" x2="271.3" y2="308.2" stroke="#7c7c7c" stroke-width="1"/>
<line x1="26.5" y1="320.2" x2="28.7" y2="320.2" stroke="#7c7c7c" stroke-width="1"/>
<line x1="273.5" y1="320.2" x2="271.3" y2="320.2" stroke="#7c7c7c" stroke-width="1"/>
<line x1="26.5" y1="332.1" x2="28.7" y2="332.1" stroke="#7c7c7c" stroke-width="1"/>
<line x1="273.5" y1="332.1" x2="271.3" y2="332.1" stroke="#7c7c7c" stroke-width="1"/>
<text x="26.4" y="340.3" font-family="Liberation Serif, DejaVu Serif, serif" font-size="6.5" fill="#444" text-anchor="middle">0</text>
<text x="80.94999999999999" y="340.3" font-family="Liberation Serif, DejaVu Serif, serif" font-size="6.5" fill="#444" text-anchor="middle">10</text>
<text x="135.5" y="340.3" font-family="Liberation Serif, DejaVu Serif, serif" font-size="6.5" fill="#444" text-anchor="middle">20</text>
<text x="190.05" y="340.3" font-family="Liberation Serif, DejaVu Serif, serif" font-size="6.5" fill="#444" text-anchor="middle">30</text>
<text x="244.6" y="340.3" font-family="Liberation Serif, DejaVu Serif, serif" font-size="6.5" fill="#444" text-anchor="middle">40</text>
<text x="24.8" y="285.9" font-family="Liberation Serif, DejaVu Serif, serif" font-size="6.5" fill="#444" text-anchor="end">120</text>
<text x="24.8" y="297.95" font-family="Liberation Serif, DejaVu Serif, serif" font-size="6.5" fill="#444" text-anchor="end">80</text>
<text x="24.8" y="309.9" font-family="Liberation Serif, DejaVu Serif, serif" font-size="6.5" fill="#444" text-anchor="end">40</text>
<text x="24.8" y="321.9" font-family="Liberation Serif, DejaVu Serif, serif" font-size="6.5" fill="#444" text-anchor="end">0</text>
<text x="24.8" y="333.8" font-family="Liberation Serif, DejaVu Serif, serif" font-size="6.5" fill="#444" text-anchor="end">−40</text>
<text transform="translate(11.4,304.5) rotate(-90)" font-family="Liberation Sans, Arial, sans-serif" font-size="9.0" fill="#2a2a2a" text-anchor="middle"><tspan font-family="Liberation Serif, DejaVu Serif, serif" font-style="italic">ψ</tspan> (deg)</text>
<text x="150" y="352.6" font-family="Liberation Sans, Arial, sans-serif" font-size="9.2" fill="#2a2a2a" text-anchor="middle">Time (s)</text>
<text x="65.5" y="111.6" font-family="Liberation Serif, DejaVu Serif, serif" font-size="11.7" fill="#303030" lengthAdjust="spacingAndGlyphs" textLength="14.5">(<tspan font-weight="bold">a</tspan>)</text>
<text x="84.5" y="111.6" font-family="Liberation Serif, DejaVu Serif, serif" font-size="11.7" fill="#303030" lengthAdjust="spacingAndGlyphs" textLength="128.5">z-axis gyroscope data.</text>
<text x="287.0" y="102.1" font-family="Liberation Serif, DejaVu Serif, serif" font-size="11.7" fill="#303030" lengthAdjust="spacingAndGlyphs" textLength="15.5">(<tspan font-weight="bold">b</tspan>)</text>
<text x="307.0" y="102.1" font-family="Liberation Serif, DejaVu Serif, serif" font-size="11.7" fill="#303030" lengthAdjust="spacingAndGlyphs" textLength="231.5">Norm of the estimated gyro biases from</text>
<text x="380.5" y="120.5" font-family="Liberation Serif, DejaVu Serif, serif" font-size="11.7" fill="#303030" lengthAdjust="spacingAndGlyphs" textLength="65.5">both IMUs.</text>
<text x="75.6" y="376.9" font-family="Liberation Serif, DejaVu Serif, serif" font-size="11.7" fill="#303030" lengthAdjust="spacingAndGlyphs" textLength="13.7">(<tspan font-weight="bold">c</tspan>)</text>
<text x="94.0" y="376.9" font-family="Liberation Serif, DejaVu Serif, serif" font-size="11.7" fill="#303030" lengthAdjust="spacingAndGlyphs" textLength="109.5">Attitude estimates.</text>
</svg></body></html>
